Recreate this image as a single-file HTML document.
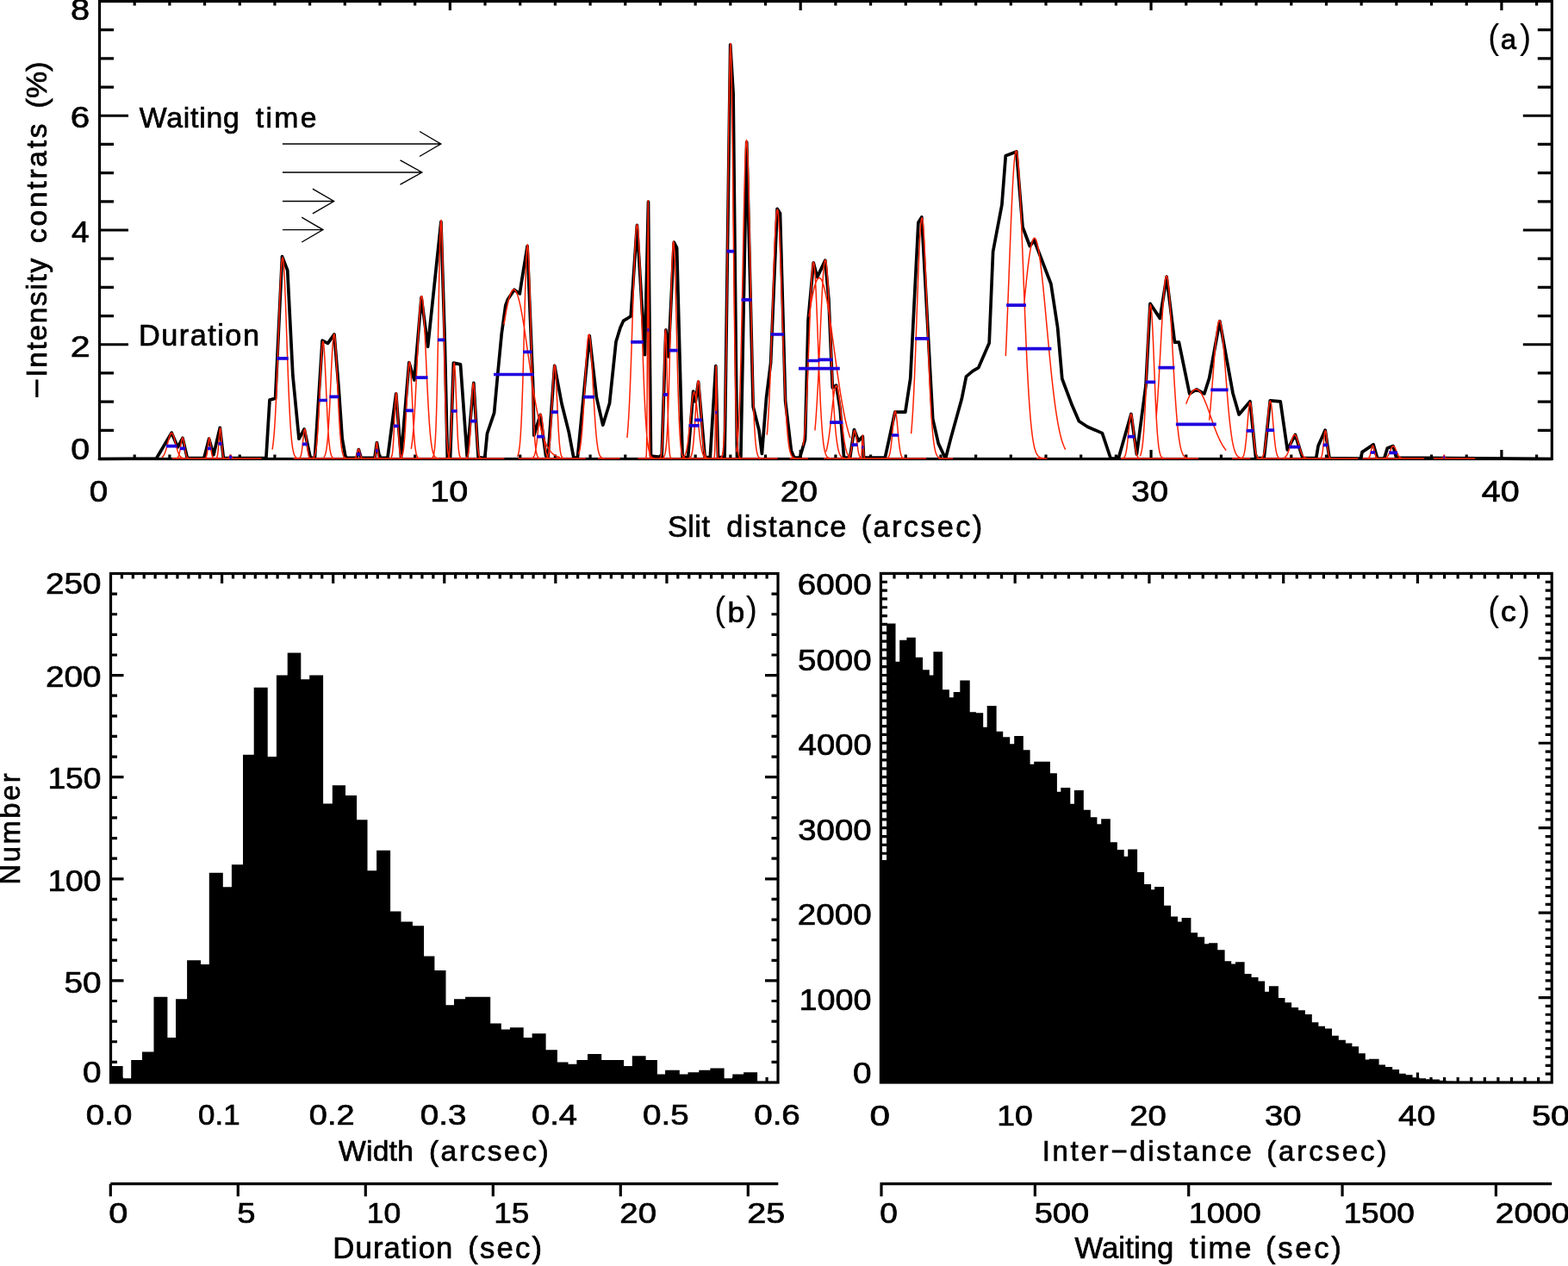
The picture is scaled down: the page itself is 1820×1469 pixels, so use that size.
<!DOCTYPE html><html><head><meta charset="utf-8"><style>html,body{margin:0;padding:0;background:#fff;}svg{display:block}</style></head><body>
<svg width="1820" height="1469" viewBox="0 0 1820 1469" font-family="'Liberation Sans', Arial, sans-serif" fill="#000">
<rect width="1820" height="1469" fill="#fff"/>
<path d="M128.50 1256.00L128.50 1237.10L142.60 1237.10L142.60 1251.28L152.20 1251.28L152.20 1230.02L165.00 1230.02L165.00 1220.57L178.50 1220.57L178.50 1156.80L194.40 1156.80L194.40 1204.04L204.00 1204.04L204.00 1159.16L217.10 1159.16L217.10 1114.28L233.00 1114.28L233.00 1119.00L242.80 1119.00L242.80 1012.71L258.80 1012.71L258.80 1029.25L268.90 1029.25L268.90 1003.27L282.00 1003.27L282.00 875.72L294.70 875.72L294.70 797.77L310.70 797.77L310.70 878.08L320.90 878.08L320.90 783.60L333.70 783.60L333.70 757.62L349.30 757.62L349.30 788.32L359.20 788.32L359.20 783.60L375.10 783.60L375.10 932.41L385.80 932.41L385.80 911.15L401.00 911.15L401.00 922.96L414.10 922.96L414.10 951.30L426.50 951.30L426.50 1010.35L437.10 1010.35L437.10 986.73L453.10 986.73L453.10 1057.59L465.50 1057.59L465.50 1069.40L478.90 1069.40L478.90 1074.13L492.00 1074.13L492.00 1109.56L504.40 1109.56L504.40 1126.09L517.50 1126.09L517.50 1166.24L527.00 1166.24L527.00 1159.16L540.10 1159.16L540.10 1156.80L554.60 1156.80L554.60 1156.80L569.20 1156.80L569.20 1187.50L581.80 1187.50L581.80 1194.59L591.90 1194.59L591.90 1192.23L607.70 1192.23L607.70 1204.04L617.60 1204.04L617.60 1199.31L633.60 1199.31L633.60 1218.21L646.90 1218.21L646.90 1232.38L659.50 1232.38L659.50 1234.74L669.40 1234.74L669.40 1230.02L682.00 1230.02L682.00 1222.93L698.20 1222.93L698.20 1230.02L711.10 1230.02L711.10 1230.02L724.10 1230.02L724.10 1237.10L733.80 1237.10L733.80 1225.29L749.60 1225.29L749.60 1230.02L762.90 1230.02L762.90 1246.55L772.10 1246.55L772.10 1241.83L788.80 1241.83L788.80 1246.55L798.50 1246.55L798.50 1244.19L811.30 1244.19L811.30 1241.83L824.40 1241.83L824.40 1239.47L840.60 1239.47L840.60 1251.28L850.30 1251.28L850.30 1246.55L863.10 1246.55L863.10 1244.19L879.10 1244.19L879.10 1256.00Z" fill="#000"/>
<path d="M1022.40 1256.00L1022.40 998.10L1029.00 998.10L1029.00 723.48L1039.50 723.48L1039.50 767.77L1044.20 767.77L1044.20 742.77L1052.40 742.77L1052.40 739.72L1062.80 739.72L1062.80 762.75L1071.00 762.75L1071.00 777.22L1078.80 777.22L1078.80 783.42L1083.40 783.42L1083.40 756.25L1094.00 756.25L1094.00 800.16L1101.90 800.16L1101.90 809.31L1106.70 809.31L1106.70 802.91L1114.30 802.91L1114.30 789.62L1125.70 789.62L1125.70 826.14L1132.90 826.14L1132.90 827.32L1141.20 827.32L1141.20 843.86L1145.70 843.86L1145.70 819.05L1156.60 819.05L1156.60 848.78L1164.20 848.78L1164.20 855.18L1172.20 855.18L1172.20 863.35L1177.20 863.35L1177.20 853.90L1187.80 853.90L1187.80 870.24L1195.60 870.24L1195.60 886.68L1200.20 886.68L1200.20 883.73L1209.50 883.73L1209.50 883.73L1218.90 883.73L1218.90 897.31L1226.90 897.31L1226.90 918.67L1231.30 918.67L1231.30 914.04L1242.30 914.04L1242.30 932.74L1246.90 932.74L1246.90 916.90L1257.80 916.90L1257.80 939.83L1265.80 939.83L1265.80 948.20L1273.40 948.20L1273.40 956.17L1278.20 956.17L1278.20 950.36L1288.80 950.36L1288.80 977.34L1296.80 977.34L1296.80 985.90L1304.70 985.90L1304.70 993.87L1309.20 993.87L1309.20 985.41L1320.10 985.41L1320.10 1011.98L1328.10 1011.98L1328.10 1026.06L1336.10 1026.06L1336.10 1032.26L1340.10 1032.26L1340.10 1029.11L1351.10 1029.11L1351.10 1050.86L1359.10 1050.86L1359.10 1063.56L1367.00 1063.56L1367.00 1069.47L1371.60 1069.47L1371.60 1064.94L1382.40 1064.94L1382.40 1082.27L1390.10 1082.27L1390.10 1087.29L1398.10 1087.29L1398.10 1095.16L1403.00 1095.16L1403.00 1094.27L1413.30 1094.27L1413.30 1102.25L1421.60 1102.25L1421.60 1115.34L1429.20 1115.34L1429.20 1118.59L1434.00 1118.59L1434.00 1116.32L1444.60 1116.32L1444.60 1130.10L1452.60 1130.10L1452.60 1133.94L1460.50 1133.94L1460.50 1138.57L1468.10 1138.57L1468.10 1150.77L1472.90 1150.77L1472.90 1144.18L1483.90 1144.18L1483.90 1157.96L1491.50 1157.96L1491.50 1163.18L1499.10 1163.18L1499.10 1168.98L1507.10 1168.98L1507.10 1172.23L1514.90 1172.23L1514.90 1176.96L1522.80 1176.96L1522.80 1186.21L1530.40 1186.21L1530.40 1190.64L1538.00 1190.64L1538.00 1193.49L1546.00 1193.49L1546.00 1201.76L1553.80 1201.76L1553.80 1206.68L1561.90 1206.68L1561.90 1210.62L1569.40 1210.62L1569.40 1214.17L1577.10 1214.17L1577.10 1222.34L1584.80 1222.34L1584.80 1229.52L1589.10 1229.52L1589.10 1228.64L1600.60 1228.64L1600.60 1235.53L1608.00 1235.53L1608.00 1238.09L1616.20 1238.09L1616.20 1241.04L1624.10 1241.04L1624.10 1245.86L1631.70 1245.86L1631.70 1247.34L1639.60 1247.34L1639.60 1250.19L1647.50 1250.19L1647.50 1251.28L1655.10 1251.28L1655.10 1252.16L1663.00 1252.16L1663.00 1252.55L1670.90 1252.55L1670.90 1253.83L1678.70 1253.83L1678.70 1254.82L1686.50 1254.82L1686.50 1255.21L1694.30 1255.21L1694.30 1255.51L1702.00 1255.51L1702.00 1255.70L1709.80 1255.70L1709.80 1255.80L1717.60 1255.80L1717.60 1256.00Z" fill="#000"/>
<rect x="115.50" y="1.50" width="1685.80" height="531.00" fill="none" stroke="#000" stroke-width="3.2"/>
<rect x="128.50" y="665.50" width="774.50" height="590.50" fill="none" stroke="#000" stroke-width="3.2"/>
<rect x="1022.40" y="665.40" width="778.80" height="590.60" fill="none" stroke="#000" stroke-width="3.2"/>
<path d="M522.35 532.50v-10.5M522.35 1.50v10.5M929.20 532.50v-10.5M929.20 1.50v10.5M1336.05 532.50v-10.5M1336.05 1.50v10.5M1742.90 532.50v-10.5M1742.90 1.50v10.5M156.19 532.50v-5M156.19 1.50v5M196.87 532.50v-5M196.87 1.50v5M237.56 532.50v-5M237.56 1.50v5M278.24 532.50v-5M278.24 1.50v5M318.93 532.50v-5M318.93 1.50v5M359.61 532.50v-5M359.61 1.50v5M400.30 532.50v-5M400.30 1.50v5M440.98 532.50v-5M440.98 1.50v5M481.67 532.50v-5M481.67 1.50v5M563.04 532.50v-5M563.04 1.50v5M603.72 532.50v-5M603.72 1.50v5M644.40 532.50v-5M644.40 1.50v5M685.09 532.50v-5M685.09 1.50v5M725.78 532.50v-5M725.78 1.50v5M766.46 532.50v-5M766.46 1.50v5M807.14 532.50v-5M807.14 1.50v5M847.83 532.50v-5M847.83 1.50v5M888.52 532.50v-5M888.52 1.50v5M969.88 532.50v-5M969.88 1.50v5M1010.57 532.50v-5M1010.57 1.50v5M1051.26 532.50v-5M1051.26 1.50v5M1091.94 532.50v-5M1091.94 1.50v5M1132.62 532.50v-5M1132.62 1.50v5M1173.31 532.50v-5M1173.31 1.50v5M1214.00 532.50v-5M1214.00 1.50v5M1254.68 532.50v-5M1254.68 1.50v5M1295.37 532.50v-5M1295.37 1.50v5M1376.74 532.50v-5M1376.74 1.50v5M1417.42 532.50v-5M1417.42 1.50v5M1458.11 532.50v-5M1458.11 1.50v5M1498.79 532.50v-5M1498.79 1.50v5M1539.48 532.50v-5M1539.48 1.50v5M1580.16 532.50v-5M1580.16 1.50v5M1620.85 532.50v-5M1620.85 1.50v5M1661.53 532.50v-5M1661.53 1.50v5M1702.22 532.50v-5M1702.22 1.50v5M1783.59 532.50v-5M1783.59 1.50v5M115.50 399.75h33.5M1801.30 399.75h-33.5M115.50 267.00h33.5M1801.30 267.00h-33.5M115.50 134.25h33.5M1801.30 134.25h-33.5M115.50 499.31h16.5M1801.30 499.31h-16.5M115.50 466.12h16.5M1801.30 466.12h-16.5M115.50 432.94h16.5M1801.30 432.94h-16.5M115.50 366.56h16.5M1801.30 366.56h-16.5M115.50 333.38h16.5M1801.30 333.38h-16.5M115.50 300.19h16.5M1801.30 300.19h-16.5M115.50 233.81h16.5M1801.30 233.81h-16.5M115.50 200.62h16.5M1801.30 200.62h-16.5M115.50 167.44h16.5M1801.30 167.44h-16.5M115.50 101.06h16.5M1801.30 101.06h-16.5M115.50 67.88h16.5M1801.30 67.88h-16.5M115.50 34.69h16.5M1801.30 34.69h-16.5" stroke="#000" stroke-width="3.2" fill="none"/>
<path d="M257.58 1256.00v-11.5M257.58 665.50v11.5M386.67 1256.00v-11.5M386.67 665.50v11.5M515.75 1256.00v-11.5M515.75 665.50v11.5M644.83 1256.00v-11.5M644.83 665.50v11.5M773.92 1256.00v-11.5M773.92 665.50v11.5M141.41 1256.00v-6M141.41 665.50v6M154.32 1256.00v-6M154.32 665.50v6M167.22 1256.00v-6M167.22 665.50v6M180.13 1256.00v-6M180.13 665.50v6M193.04 1256.00v-6M193.04 665.50v6M205.95 1256.00v-6M205.95 665.50v6M218.86 1256.00v-6M218.86 665.50v6M231.77 1256.00v-6M231.77 665.50v6M244.68 1256.00v-6M244.68 665.50v6M270.49 1256.00v-6M270.49 665.50v6M283.40 1256.00v-6M283.40 665.50v6M296.31 1256.00v-6M296.31 665.50v6M309.22 1256.00v-6M309.22 665.50v6M322.12 1256.00v-6M322.12 665.50v6M335.03 1256.00v-6M335.03 665.50v6M347.94 1256.00v-6M347.94 665.50v6M360.85 1256.00v-6M360.85 665.50v6M373.76 1256.00v-6M373.76 665.50v6M399.57 1256.00v-6M399.57 665.50v6M412.48 1256.00v-6M412.48 665.50v6M425.39 1256.00v-6M425.39 665.50v6M438.30 1256.00v-6M438.30 665.50v6M451.21 1256.00v-6M451.21 665.50v6M464.12 1256.00v-6M464.12 665.50v6M477.03 1256.00v-6M477.03 665.50v6M489.93 1256.00v-6M489.93 665.50v6M502.84 1256.00v-6M502.84 665.50v6M528.66 1256.00v-6M528.66 665.50v6M541.57 1256.00v-6M541.57 665.50v6M554.48 1256.00v-6M554.48 665.50v6M567.38 1256.00v-6M567.38 665.50v6M580.29 1256.00v-6M580.29 665.50v6M593.20 1256.00v-6M593.20 665.50v6M606.11 1256.00v-6M606.11 665.50v6M619.02 1256.00v-6M619.02 665.50v6M631.92 1256.00v-6M631.92 665.50v6M657.74 1256.00v-6M657.74 665.50v6M670.65 1256.00v-6M670.65 665.50v6M683.56 1256.00v-6M683.56 665.50v6M696.47 1256.00v-6M696.47 665.50v6M709.38 1256.00v-6M709.38 665.50v6M722.28 1256.00v-6M722.28 665.50v6M735.19 1256.00v-6M735.19 665.50v6M748.10 1256.00v-6M748.10 665.50v6M761.01 1256.00v-6M761.01 665.50v6M786.83 1256.00v-6M786.83 665.50v6M799.73 1256.00v-6M799.73 665.50v6M812.64 1256.00v-6M812.64 665.50v6M825.55 1256.00v-6M825.55 665.50v6M838.46 1256.00v-6M838.46 665.50v6M851.37 1256.00v-6M851.37 665.50v6M864.27 1256.00v-6M864.27 665.50v6M877.18 1256.00v-6M877.18 665.50v6M890.09 1256.00v-6M890.09 665.50v6M128.50 1137.90h15M903.00 1137.90h-15M128.50 1019.80h15M903.00 1019.80h-15M128.50 901.70h15M903.00 901.70h-15M128.50 783.60h15M903.00 783.60h-15M128.50 1232.38h7.5M903.00 1232.38h-7.5M128.50 1208.76h7.5M903.00 1208.76h-7.5M128.50 1185.14h7.5M903.00 1185.14h-7.5M128.50 1161.52h7.5M903.00 1161.52h-7.5M128.50 1114.28h7.5M903.00 1114.28h-7.5M128.50 1090.66h7.5M903.00 1090.66h-7.5M128.50 1067.04h7.5M903.00 1067.04h-7.5M128.50 1043.42h7.5M903.00 1043.42h-7.5M128.50 996.18h7.5M903.00 996.18h-7.5M128.50 972.56h7.5M903.00 972.56h-7.5M128.50 948.94h7.5M903.00 948.94h-7.5M128.50 925.32h7.5M903.00 925.32h-7.5M128.50 878.08h7.5M903.00 878.08h-7.5M128.50 854.46h7.5M903.00 854.46h-7.5M128.50 830.84h7.5M903.00 830.84h-7.5M128.50 807.22h7.5M903.00 807.22h-7.5M128.50 759.98h7.5M903.00 759.98h-7.5M128.50 736.36h7.5M903.00 736.36h-7.5M128.50 712.74h7.5M903.00 712.74h-7.5M128.50 689.12h7.5M903.00 689.12h-7.5" stroke="#000" stroke-width="3.2" fill="none"/>
<path d="M1178.16 1256.00v-11.5M1178.16 665.40v11.5M1333.92 1256.00v-11.5M1333.92 665.40v11.5M1489.68 1256.00v-11.5M1489.68 665.40v11.5M1645.44 1256.00v-11.5M1645.44 665.40v11.5M1037.98 1256.00v-6M1037.98 665.40v6M1053.55 1256.00v-6M1053.55 665.40v6M1069.13 1256.00v-6M1069.13 665.40v6M1084.70 1256.00v-6M1084.70 665.40v6M1100.28 1256.00v-6M1100.28 665.40v6M1115.86 1256.00v-6M1115.86 665.40v6M1131.43 1256.00v-6M1131.43 665.40v6M1147.01 1256.00v-6M1147.01 665.40v6M1162.58 1256.00v-6M1162.58 665.40v6M1193.74 1256.00v-6M1193.74 665.40v6M1209.31 1256.00v-6M1209.31 665.40v6M1224.89 1256.00v-6M1224.89 665.40v6M1240.46 1256.00v-6M1240.46 665.40v6M1256.04 1256.00v-6M1256.04 665.40v6M1271.62 1256.00v-6M1271.62 665.40v6M1287.19 1256.00v-6M1287.19 665.40v6M1302.77 1256.00v-6M1302.77 665.40v6M1318.34 1256.00v-6M1318.34 665.40v6M1349.50 1256.00v-6M1349.50 665.40v6M1365.07 1256.00v-6M1365.07 665.40v6M1380.65 1256.00v-6M1380.65 665.40v6M1396.22 1256.00v-6M1396.22 665.40v6M1411.80 1256.00v-6M1411.80 665.40v6M1427.38 1256.00v-6M1427.38 665.40v6M1442.95 1256.00v-6M1442.95 665.40v6M1458.53 1256.00v-6M1458.53 665.40v6M1474.10 1256.00v-6M1474.10 665.40v6M1505.26 1256.00v-6M1505.26 665.40v6M1520.83 1256.00v-6M1520.83 665.40v6M1536.41 1256.00v-6M1536.41 665.40v6M1551.98 1256.00v-6M1551.98 665.40v6M1567.56 1256.00v-6M1567.56 665.40v6M1583.14 1256.00v-6M1583.14 665.40v6M1598.71 1256.00v-6M1598.71 665.40v6M1614.29 1256.00v-6M1614.29 665.40v6M1629.86 1256.00v-6M1629.86 665.40v6M1661.02 1256.00v-6M1661.02 665.40v6M1676.59 1256.00v-6M1676.59 665.40v6M1692.17 1256.00v-6M1692.17 665.40v6M1707.74 1256.00v-6M1707.74 665.40v6M1723.32 1256.00v-6M1723.32 665.40v6M1738.90 1256.00v-6M1738.90 665.40v6M1754.47 1256.00v-6M1754.47 665.40v6M1770.05 1256.00v-6M1770.05 665.40v6M1785.62 1256.00v-6M1785.62 665.40v6M1022.40 1157.57h15.5M1801.20 1157.57h-15.5M1022.40 1059.13h15.5M1801.20 1059.13h-15.5M1022.40 960.70h15.5M1801.20 960.70h-15.5M1022.40 862.27h15.5M1801.20 862.27h-15.5M1022.40 763.83h15.5M1801.20 763.83h-15.5M1022.40 1246.16h7.5M1801.20 1246.16h-7.5M1022.40 1236.31h7.5M1801.20 1236.31h-7.5M1022.40 1226.47h7.5M1801.20 1226.47h-7.5M1022.40 1216.63h7.5M1801.20 1216.63h-7.5M1022.40 1206.78h7.5M1801.20 1206.78h-7.5M1022.40 1196.94h7.5M1801.20 1196.94h-7.5M1022.40 1187.10h7.5M1801.20 1187.10h-7.5M1022.40 1177.25h7.5M1801.20 1177.25h-7.5M1022.40 1167.41h7.5M1801.20 1167.41h-7.5M1022.40 1147.72h7.5M1801.20 1147.72h-7.5M1022.40 1137.88h7.5M1801.20 1137.88h-7.5M1022.40 1128.04h7.5M1801.20 1128.04h-7.5M1022.40 1118.19h7.5M1801.20 1118.19h-7.5M1022.40 1108.35h7.5M1801.20 1108.35h-7.5M1022.40 1098.51h7.5M1801.20 1098.51h-7.5M1022.40 1088.66h7.5M1801.20 1088.66h-7.5M1022.40 1078.82h7.5M1801.20 1078.82h-7.5M1022.40 1068.98h7.5M1801.20 1068.98h-7.5M1022.40 1049.29h7.5M1801.20 1049.29h-7.5M1022.40 1039.45h7.5M1801.20 1039.45h-7.5M1022.40 1029.60h7.5M1801.20 1029.60h-7.5M1022.40 1019.76h7.5M1801.20 1019.76h-7.5M1022.40 1009.92h7.5M1801.20 1009.92h-7.5M1022.40 1000.07h7.5M1801.20 1000.07h-7.5M1022.40 990.23h7.5M1801.20 990.23h-7.5M1022.40 980.39h7.5M1801.20 980.39h-7.5M1022.40 970.54h7.5M1801.20 970.54h-7.5M1022.40 950.86h7.5M1801.20 950.86h-7.5M1022.40 941.01h7.5M1801.20 941.01h-7.5M1022.40 931.17h7.5M1801.20 931.17h-7.5M1022.40 921.33h7.5M1801.20 921.33h-7.5M1022.40 911.48h7.5M1801.20 911.48h-7.5M1022.40 901.64h7.5M1801.20 901.64h-7.5M1022.40 891.80h7.5M1801.20 891.80h-7.5M1022.40 881.95h7.5M1801.20 881.95h-7.5M1022.40 872.11h7.5M1801.20 872.11h-7.5M1022.40 852.42h7.5M1801.20 852.42h-7.5M1022.40 842.58h7.5M1801.20 842.58h-7.5M1022.40 832.74h7.5M1801.20 832.74h-7.5M1022.40 822.89h7.5M1801.20 822.89h-7.5M1022.40 813.05h7.5M1801.20 813.05h-7.5M1022.40 803.21h7.5M1801.20 803.21h-7.5M1022.40 793.36h7.5M1801.20 793.36h-7.5M1022.40 783.52h7.5M1801.20 783.52h-7.5M1022.40 773.68h7.5M1801.20 773.68h-7.5M1022.40 753.99h7.5M1801.20 753.99h-7.5M1022.40 744.15h7.5M1801.20 744.15h-7.5M1022.40 734.30h7.5M1801.20 734.30h-7.5M1022.40 724.46h7.5M1801.20 724.46h-7.5M1022.40 714.62h7.5M1801.20 714.62h-7.5M1022.40 704.77h7.5M1801.20 704.77h-7.5M1022.40 694.93h7.5M1801.20 694.93h-7.5M1022.40 685.09h7.5M1801.20 685.09h-7.5M1022.40 675.24h7.5M1801.20 675.24h-7.5" stroke="#000" stroke-width="3.2" fill="none"/>
<path d="M115.5 532.5L181.5 532.0L199.2 502.1L206.3 518.9L212.0 508.3L217.4 531.5L236.9 531.5L242.6 509.2L247.9 527.8L255.3 496.3L259.4 531.5L308.9 531.5L313.0 464.1L319.6 462.3L327.5 297.7L333.7 313.6L339.9 435.8L347.0 509.2L353.2 498.0L360.3 531.3L365.4 531.4L374.1 395.2L380.5 398.4L388.0 387.9L393.2 451.0L397.2 508.9L400.7 528.5L402.0 531.4L414.0 531.4L416.3 521.6L419.2 531.4L434.9 531.4L437.4 513.5L440.6 531.4L449.9 531.4L459.7 456.8L465.5 530.9L474.8 420.6L480.9 441.0L489.1 345.1L496.6 402.2L511.9 257.3L516.4 400.0L519.3 531.6L522.6 531.6L526.4 421.0L534.5 422.9L542.2 529.7L549.8 444.3L555.1 530.7L562.7 531.6L565.5 503.0L573.6 479.2L577.6 435.4L582.2 387.6L586.8 354.5L589.5 347.2L596.9 336.2L603.3 340.8L605.1 328.8L612.1 285.6L618.9 453.8L619.8 505.2L627.2 481.4L633.6 529.1L636.0 531.4L643.7 424.4L652.0 468.5L660.3 501.6L665.8 531.0L670.4 531.0L684.2 389.5L692.4 461.1L699.8 493.3L707.5 468.0L715.0 396.5L720.0 380.3L723.5 372.4L732.2 367.0L739.4 261.4L748.5 411.6L752.5 234.2L755.5 529.2L768.1 530.5L772.9 382.9L775.8 413.8L782.3 281.0L785.6 287.5L792.1 530.5L798.6 530.5L804.7 454.0L807.3 466.0L810.6 443.2L818.2 530.5L824.3 530.5L830.8 424.7L833.5 530.5L841.1 530.5L847.7 51.9L851.1 108.0L855.5 530.5L859.9 530.5L866.7 165.0L874.2 472.0L881.0 499.2L884.4 526.4L889.5 461.8L894.6 421.0L902.1 242.4L905.5 247.5L911.6 465.2L918.4 523.0L921.8 531.0L928.3 531.2L930.9 522.4L934.5 510.0L938.0 372.0L944.2 304.8L948.6 321.6L957.8 302.1L961.9 347.2L966.3 449.8L970.7 447.2L975.1 474.6L979.6 531.2L986.6 531.2L991.4 498.5L996.4 511.7L1001.3 506.4L1002.6 531.2L1027.3 531.2L1038.8 478.2L1050.8 478.2L1056.7 439.4L1065.9 258.3L1069.8 251.9L1082.7 486.1L1089.2 514.6L1097.5 532.3L1103.4 509.4L1116.3 462.8L1121.5 436.9L1129.3 430.4L1135.8 426.6L1148.2 398.1L1152.6 292.0L1162.9 237.6L1167.3 180.7L1179.8 176.0L1187.0 263.5L1195.3 285.5L1200.5 279.0L1219.9 329.5L1227.6 380.0L1232.8 439.5L1244.5 470.6L1252.4 488.7L1262.3 495.2L1279.4 502.6L1289.2 532.0L1298.2 532.0L1312.9 480.5L1319.4 527.1L1330.0 447.0L1335.0 352.3L1346.4 369.4L1354.1 321.2L1363.5 397.2L1368.4 397.2L1380.7 456.8L1388.9 451.9L1397.9 456.8L1403.6 438.9L1415.8 372.7L1431.0 456.2L1438.1 481.0L1451.0 465.8L1457.6 531.6L1467.2 531.6L1474.3 464.8L1486.2 465.8L1494.3 522.0L1503.4 504.4L1512.0 531.6L1527.7 531.6L1530.1 517.3L1538.2 499.1L1543.0 531.6L1579.6 532.0L1581.0 524.6L1594.1 515.7L1598.8 532.0L1606.7 532.0L1610.4 519.9L1617.0 517.6L1620.7 531.1L1801.0 532.5" fill="none" stroke="#000" stroke-width="3.7" stroke-linejoin="round" stroke-linecap="round"/>
<path d="M187.7 530.9L188.2 530.6L188.7 530.1L189.2 529.6L189.7 528.9L190.2 528.1L190.7 527.1L191.2 526.0L191.7 524.7L192.2 523.3L192.7 521.7L193.2 519.9L193.7 518.1L194.2 516.1L194.7 514.1L195.2 512.1L195.7 510.2L196.2 508.4L196.7 506.7L197.2 505.2L197.7 504.0L198.2 503.1L198.7 502.6L199.2 502.4L199.7 502.6L200.2 503.1L200.7 504.0L201.2 505.2L201.7 506.7L202.2 508.4L202.7 510.2L203.2 512.1L203.7 514.1L204.2 516.1L204.7 518.1L205.2 519.9L205.7 521.7L206.2 523.3L206.7 524.7L207.2 526.0L207.7 527.1L208.2 528.1L208.7 528.9L209.2 529.6L209.7 530.1L210.2 530.6L210.7 530.9L211.2 531.2L211.7 531.4L212.2 531.6L212.7 531.7L213.2 531.8L213.7 531.8L214.2 531.9L214.7 531.9L215.2 532.0L215.7 532.0L216.2 532.0L216.7 532.0L217.2 532.0L217.7 532.0L218.2 532.0L218.7 532.0L219.2 532.0L219.7 532.0L220.2 532.0L220.7 532.0L221.2 532.0L221.7 532.0L222.2 532.0L222.7 532.0L223.2 532.0L223.7 532.0L224.2 532.0L224.7 532.0L225.2 532.0L225.7 532.0L226.2 532.0L226.7 532.0L227.2 532.0L227.7 532.0L228.2 532.0L228.7 532.0L229.2 532.0L229.7 532.0L230.2 532.0L230.7 532.0L231.2 532.0L231.7 532.0L232.2 532.0L232.7 532.0L233.2 532.0L233.7 532.0L234.2 532.0L234.7 532.0L235.2 532.0M200.0 532.0L200.5 532.0L201.0 532.0L201.5 532.0L202.0 532.0L202.5 532.0L203.0 532.0L203.5 532.0L204.0 532.0L204.5 531.9L205.0 531.8L205.5 531.6L206.0 531.3L206.5 530.8L207.0 530.0L207.5 528.8L208.0 527.1L208.5 524.9L209.0 522.1L209.5 519.0L210.0 515.8L210.5 512.7L211.0 510.1L211.5 508.4L212.0 507.8L212.5 508.4L213.0 510.1L213.5 512.7L214.0 515.8L214.5 519.0L215.0 522.1L215.5 524.9L216.0 527.1L216.5 528.8L217.0 530.0L217.5 530.8L218.0 531.3L218.5 531.6L219.0 531.8L219.5 531.9L220.0 532.0L220.5 532.0L221.0 532.0L221.5 532.0L222.0 532.0L222.5 532.0L223.0 532.0L223.5 532.0L224.0 532.0L224.5 532.0L225.0 532.0L225.5 532.0L226.0 532.0L226.5 532.0L227.0 532.0L227.5 532.0L228.0 532.0L228.5 532.0L229.0 532.0L229.5 532.0L230.0 532.0L230.5 532.0L231.0 532.0L231.5 532.0L232.0 532.0L232.5 532.0L233.0 532.0L233.5 532.0L234.0 532.0L234.5 532.0L235.0 532.0L235.5 532.0L236.0 532.0L236.5 532.0L237.0 532.0L237.5 532.0L238.0 532.0L238.5 532.0L239.0 532.0L239.5 532.0L240.0 532.0L240.5 532.0L241.0 532.0L241.5 532.0L242.0 532.0L242.5 532.0L243.0 532.0L243.5 532.0L244.0 532.0L244.5 532.0L245.0 532.0L245.5 532.0L246.0 532.0L246.5 532.0L247.0 532.0L247.5 532.0L248.0 532.0M231.0 532.0L231.5 532.0L232.0 532.0L232.5 532.0L233.0 532.0L233.5 532.0L234.0 532.0L234.5 532.0L235.0 532.0L235.5 532.0L236.0 532.0L236.5 532.0L237.0 532.0L237.5 531.9L238.0 531.8L238.5 531.6L239.0 531.0L239.5 529.9L240.0 527.9L240.5 525.0L241.0 521.0L241.5 516.5L242.0 512.2L242.5 509.0L243.0 507.8L243.5 509.0L244.0 512.2L244.5 516.5L245.0 521.0L245.5 525.0L246.0 527.9L246.5 529.9L247.0 531.0L247.5 531.6L248.0 531.8L248.5 531.9L249.0 532.0L249.5 532.0L250.0 532.0L250.5 532.0L251.0 532.0L251.5 532.0L252.0 532.0L252.5 532.0L253.0 532.0L253.5 532.0L254.0 532.0L254.5 532.0L255.0 532.0L255.5 532.0L256.0 532.0L256.5 532.0L257.0 532.0L257.5 532.0L258.0 532.0L258.5 532.0L259.0 532.0L259.5 532.0L260.0 532.0L260.5 532.0L261.0 532.0L261.5 532.0L262.0 532.0L262.5 532.0L263.0 532.0L263.5 532.0L264.0 532.0L264.5 532.0L265.0 532.0L265.5 532.0L266.0 532.0L266.5 532.0L267.0 532.0L267.5 532.0L268.0 532.0L268.5 532.0L269.0 532.0L269.5 532.0L270.0 532.0L270.5 532.0L271.0 532.0L271.5 532.0L272.0 532.0L272.5 532.0L273.0 532.0L273.5 532.0L274.0 532.0L274.5 532.0L275.0 532.0L275.5 532.0L276.0 532.0L276.5 532.0L277.0 532.0L277.5 532.0L278.0 532.0L278.5 532.0L279.0 532.0M243.6 532.0L244.1 532.0L244.6 532.0L245.1 532.0L245.6 532.0L246.1 532.0L246.6 532.0L247.1 532.0L247.6 532.0L248.1 532.0L248.6 532.0L249.1 532.0L249.6 532.0L250.1 532.0L250.6 531.9L251.1 531.7L251.6 531.1L252.1 529.9L252.6 527.5L253.1 523.5L253.6 517.9L254.1 510.9L254.6 504.0L255.1 498.8L255.6 496.8L256.1 498.8L256.6 504.0L257.1 510.9L257.6 517.9L258.1 523.5L258.6 527.5L259.1 529.9L259.6 531.1L260.1 531.7L260.6 531.9L261.1 532.0L261.6 532.0L262.1 532.0L262.6 532.0L263.1 532.0L263.6 532.0L264.1 532.0L264.6 532.0L265.1 532.0L265.6 532.0L266.1 532.0L266.6 532.0L267.1 532.0L267.6 532.0L268.1 532.0L268.6 532.0L269.1 532.0L269.6 532.0L270.1 532.0L270.6 532.0L271.1 532.0L271.6 532.0L272.1 532.0L272.6 532.0L273.1 532.0L273.6 532.0L274.1 532.0L274.6 532.0L275.1 532.0L275.6 532.0L276.1 532.0L276.6 532.0L277.1 532.0L277.6 532.0L278.1 532.0L278.6 532.0L279.1 532.0L279.6 532.0L280.1 532.0L280.6 532.0L281.1 532.0L281.6 532.0L282.1 532.0L282.6 532.0L283.1 532.0L283.6 532.0L284.1 532.0L284.6 532.0L285.1 532.0L285.6 532.0L286.1 532.0L286.6 532.0L287.1 532.0L287.6 532.0L288.1 532.0L288.6 532.0L289.1 532.0L289.6 532.0L290.1 532.0L290.6 532.0L291.1 532.0L291.6 532.0M255.6 532.0L256.1 532.0L256.6 532.0L257.1 532.0L257.6 532.0L258.1 532.0L258.6 532.0L259.1 532.0L259.6 532.0L260.1 532.0L260.6 532.0L261.1 532.0L261.6 532.0L262.1 532.0L262.6 532.0L263.1 532.0L263.6 532.0L264.1 532.0L264.6 531.9L265.1 531.7L265.6 531.2L266.1 530.4L266.6 529.3L267.1 528.2L267.6 527.8L268.1 528.2L268.6 529.3L269.1 530.4L269.6 531.2L270.1 531.7L270.6 531.9L271.1 532.0L271.6 532.0L272.1 532.0L272.6 532.0L273.1 532.0L273.6 532.0L274.1 532.0L274.6 532.0L275.1 532.0L275.6 532.0L276.1 532.0L276.6 532.0L277.1 532.0L277.6 532.0L278.1 532.0L278.6 532.0L279.1 532.0L279.6 532.0L280.1 532.0L280.6 532.0L281.1 532.0L281.6 532.0L282.1 532.0L282.6 532.0L283.1 532.0L283.6 532.0L284.1 532.0L284.6 532.0L285.1 532.0L285.6 532.0L286.1 532.0L286.6 532.0L287.1 532.0L287.6 532.0L288.1 532.0L288.6 532.0L289.1 532.0L289.6 532.0L290.1 532.0L290.6 532.0L291.1 532.0L291.6 532.0L292.1 532.0L292.6 532.0L293.1 532.0L293.6 532.0L294.1 532.0L294.6 532.0L295.1 532.0L295.6 532.0L296.1 532.0L296.6 532.0L297.1 532.0L297.6 532.0L298.1 532.0L298.6 532.0L299.1 532.0L299.6 532.0L300.1 532.0L300.6 532.0L301.1 532.0L301.6 532.0L302.1 532.0L302.6 532.0L303.1 532.0L303.6 532.0M316.0 521.7L316.5 518.8L317.0 515.1L317.5 510.7L318.0 505.3L318.5 499.1L319.0 491.7L319.5 483.3L320.0 473.8L320.5 463.1L321.0 451.4L321.5 438.7L322.0 425.1L322.5 410.9L323.0 396.3L323.5 381.6L324.0 367.0L324.5 353.1L325.0 340.0L325.5 328.2L326.0 318.0L326.5 309.7L327.0 303.6L327.5 299.9L328.0 298.6L328.5 299.9L329.0 303.6L329.5 309.7L330.0 318.0L330.5 328.2L331.0 340.0L331.5 353.1L332.0 367.0L332.5 381.6L333.0 396.3L333.5 410.9L334.0 425.1L334.5 438.7L335.0 451.4L335.5 463.1L336.0 473.8L336.5 483.3L337.0 491.7L337.5 499.1L338.0 505.3L338.5 510.7L339.0 515.1L339.5 518.8L340.0 521.7L340.5 524.1L341.0 526.0L341.5 527.5L342.0 528.7L342.5 529.6L343.0 530.2L343.5 530.7L344.0 531.1L344.5 531.4L345.0 531.6L345.5 531.7L346.0 531.8L346.5 531.9L347.0 531.9L347.5 531.9L348.0 532.0L348.5 532.0L349.0 532.0L349.5 532.0L350.0 532.0L350.5 532.0L351.0 532.0L351.5 532.0L352.0 532.0L352.5 532.0L353.0 532.0L353.5 532.0L354.0 532.0L354.5 532.0L355.0 532.0L355.5 532.0L356.0 532.0L356.5 532.0L357.0 532.0L357.5 532.0L358.0 532.0L358.5 532.0L359.0 532.0L359.5 532.0L360.0 532.0L360.5 532.0L361.0 532.0L361.5 532.0L362.0 532.0L362.5 532.0L363.0 532.0L363.5 532.0L364.0 532.0M341.8 532.0L342.3 532.0L342.8 532.0L343.3 532.0L343.8 532.0L344.3 532.0L344.8 532.0L345.3 532.0L345.8 532.0L346.3 531.9L346.8 531.9L347.3 531.7L347.8 531.4L348.3 530.9L348.8 530.0L349.3 528.6L349.8 526.5L350.3 523.5L350.8 519.7L351.3 515.2L351.8 510.3L352.3 505.5L352.8 501.5L353.3 498.8L353.8 497.8L354.3 498.8L354.8 501.5L355.3 505.5L355.8 510.3L356.3 515.2L356.8 519.7L357.3 523.5L357.8 526.5L358.3 528.6L358.8 530.0L359.3 530.9L359.8 531.4L360.3 531.7L360.8 531.9L361.3 531.9L361.8 532.0L362.3 532.0L362.8 532.0L363.3 532.0L363.8 532.0L364.3 532.0L364.8 532.0L365.3 532.0L365.8 532.0L366.3 532.0L366.8 532.0L367.3 532.0L367.8 532.0L368.3 532.0L368.8 532.0L369.3 532.0L369.8 532.0L370.3 532.0L370.8 532.0L371.3 532.0L371.8 532.0L372.3 532.0L372.8 532.0L373.3 532.0L373.8 532.0L374.3 532.0L374.8 532.0L375.3 532.0L375.8 532.0L376.3 532.0L376.8 532.0L377.3 532.0L377.8 532.0L378.3 532.0L378.8 532.0L379.3 532.0L379.8 532.0L380.3 532.0L380.8 532.0L381.3 532.0L381.8 532.0L382.3 532.0L382.8 532.0L383.3 532.0L383.8 532.0L384.3 532.0L384.8 532.0L385.3 532.0L385.8 532.0L386.3 532.0L386.8 532.0L387.3 532.0L387.8 532.0L388.3 532.0L388.8 532.0L389.3 532.0L389.8 532.0M362.9 531.5L363.4 531.2L363.9 530.8L364.4 530.2L364.9 529.3L365.4 528.0L365.9 526.3L366.4 524.0L366.9 520.9L367.4 517.0L367.9 512.0L368.4 506.0L368.9 498.8L369.4 490.4L369.9 480.9L370.4 470.5L370.9 459.3L371.4 447.8L371.9 436.4L372.4 425.5L372.9 415.7L373.4 407.5L373.9 401.2L374.4 397.3L374.9 396.0L375.4 397.3L375.9 401.2L376.4 407.5L376.9 415.7L377.4 425.5L377.9 436.4L378.4 447.8L378.9 459.3L379.4 470.5L379.9 480.9L380.4 490.4L380.9 498.8L381.4 506.0L381.9 512.0L382.4 517.0L382.9 520.9L383.4 524.0L383.9 526.3L384.4 528.0L384.9 529.3L385.4 530.2L385.9 530.8L386.4 531.2L386.9 531.5L387.4 531.7L387.9 531.8L388.4 531.9L388.9 531.9L389.4 532.0L389.9 532.0L390.4 532.0L390.9 532.0L391.4 532.0L391.9 532.0L392.4 532.0L392.9 532.0L393.4 532.0L393.9 532.0L394.4 532.0L394.9 532.0L395.4 532.0L395.9 532.0L396.4 532.0L396.9 532.0L397.4 532.0L397.9 532.0L398.4 532.0L398.9 532.0L399.4 532.0L399.9 532.0L400.4 532.0L400.9 532.0L401.4 532.0L401.9 532.0L402.4 532.0L402.9 532.0L403.4 532.0L403.9 532.0L404.4 532.0L404.9 532.0L405.4 532.0L405.9 532.0L406.4 532.0L406.9 532.0L407.4 532.0L407.9 532.0L408.4 532.0L408.9 532.0L409.4 532.0L409.9 532.0L410.4 532.0L410.9 532.0M375.8 530.7L376.3 530.1L376.8 529.3L377.3 528.2L377.8 526.6L378.3 524.6L378.8 521.9L379.3 518.6L379.8 514.4L380.3 509.3L380.8 503.2L381.3 496.0L381.8 487.8L382.3 478.6L382.8 468.6L383.3 457.8L383.8 446.7L384.3 435.5L384.8 424.6L385.3 414.4L385.8 405.4L386.3 397.9L386.8 392.3L387.3 388.8L387.8 387.6L388.3 388.8L388.8 392.3L389.3 397.9L389.8 405.4L390.3 414.4L390.8 424.6L391.3 435.5L391.8 446.7L392.3 457.8L392.8 468.6L393.3 478.6L393.8 487.8L394.3 496.0L394.8 503.2L395.3 509.3L395.8 514.4L396.3 518.6L396.8 521.9L397.3 524.6L397.8 526.6L398.3 528.2L398.8 529.3L399.3 530.1L399.8 530.7L400.3 531.2L400.8 531.4L401.3 531.6L401.8 531.8L402.3 531.9L402.8 531.9L403.3 531.9L403.8 532.0L404.3 532.0L404.8 532.0L405.3 532.0L405.8 532.0L406.3 532.0L406.8 532.0L407.3 532.0L407.8 532.0L408.3 532.0L408.8 532.0L409.3 532.0L409.8 532.0L410.3 532.0L410.8 532.0L411.3 532.0L411.8 532.0L412.3 532.0L412.8 532.0L413.3 532.0L413.8 532.0L414.3 532.0L414.8 532.0L415.3 532.0L415.8 532.0L416.3 532.0L416.8 532.0L417.3 532.0L417.8 532.0L418.3 532.0L418.8 532.0L419.3 532.0L419.8 532.0L420.3 532.0L420.8 532.0L421.3 532.0L421.8 532.0L422.3 532.0L422.8 532.0L423.3 532.0L423.8 532.0M404.2 532.0L404.7 532.0L405.2 532.0L405.7 532.0L406.2 532.0L406.7 532.0L407.2 532.0L407.7 532.0L408.2 532.0L408.7 532.0L409.2 532.0L409.7 532.0L410.2 532.0L410.7 532.0L411.2 531.9L411.7 531.8L412.2 531.5L412.7 531.0L413.2 530.2L413.7 528.8L414.2 527.0L414.7 525.0L415.2 523.0L415.7 521.5L416.2 521.0L416.7 521.5L417.2 523.0L417.7 525.0L418.2 527.0L418.7 528.8L419.2 530.2L419.7 531.0L420.2 531.5L420.7 531.8L421.2 531.9L421.7 532.0L422.2 532.0L422.7 532.0L423.2 532.0L423.7 532.0L424.2 532.0L424.7 532.0L425.2 532.0L425.7 532.0L426.2 532.0L426.7 532.0L427.2 532.0L427.7 532.0L428.2 532.0L428.7 532.0L429.2 532.0L429.7 532.0L430.2 532.0L430.7 532.0L431.2 532.0L431.7 532.0L432.2 532.0L432.7 532.0L433.2 532.0L433.7 532.0L434.2 532.0L434.7 532.0L435.2 532.0L435.7 532.0L436.2 532.0L436.7 532.0L437.2 532.0L437.7 532.0L438.2 532.0L438.7 532.0L439.2 532.0L439.7 532.0L440.2 532.0L440.7 532.0L441.2 532.0L441.7 532.0L442.2 532.0L442.7 532.0L443.2 532.0L443.7 532.0L444.2 532.0L444.7 532.0L445.2 532.0L445.7 532.0L446.2 532.0L446.7 532.0L447.2 532.0L447.7 532.0L448.2 532.0L448.7 532.0L449.2 532.0L449.7 532.0L450.2 532.0L450.7 532.0L451.2 532.0L451.7 532.0L452.2 532.0M425.3 532.0L425.8 532.0L426.3 532.0L426.8 532.0L427.3 532.0L427.8 532.0L428.3 532.0L428.8 532.0L429.3 532.0L429.8 532.0L430.3 532.0L430.8 532.0L431.3 532.0L431.8 532.0L432.3 532.0L432.8 532.0L433.3 532.0L433.8 532.0L434.3 531.9L434.8 531.5L435.3 530.0L435.8 526.7L436.3 521.2L436.8 515.5L437.3 513.0L437.8 515.5L438.3 521.2L438.8 526.7L439.3 530.0L439.8 531.5L440.3 531.9L440.8 532.0L441.3 532.0L441.8 532.0L442.3 532.0L442.8 532.0L443.3 532.0L443.8 532.0L444.3 532.0L444.8 532.0L445.3 532.0L445.8 532.0L446.3 532.0L446.8 532.0L447.3 532.0L447.8 532.0L448.3 532.0L448.8 532.0L449.3 532.0L449.8 532.0L450.3 532.0L450.8 532.0L451.3 532.0L451.8 532.0L452.3 532.0L452.8 532.0L453.3 532.0L453.8 532.0L454.3 532.0L454.8 532.0L455.3 532.0L455.8 532.0L456.3 532.0L456.8 532.0L457.3 532.0L457.8 532.0L458.3 532.0L458.8 532.0L459.3 532.0L459.8 532.0L460.3 532.0L460.8 532.0L461.3 532.0L461.8 532.0L462.3 532.0L462.8 532.0L463.3 532.0L463.8 532.0L464.3 532.0L464.8 532.0L465.3 532.0L465.8 532.0L466.3 532.0L466.8 532.0L467.3 532.0L467.8 532.0L468.3 532.0L468.8 532.0L469.3 532.0L469.8 532.0L470.3 532.0L470.8 532.0L471.3 532.0L471.8 532.0L472.3 532.0L472.8 532.0L473.3 532.0M447.9 532.0L448.4 532.0L448.9 532.0L449.4 532.0L449.9 532.0L450.4 532.0L450.9 532.0L451.4 532.0L451.9 532.0L452.4 531.9L452.9 531.8L453.4 531.6L453.9 531.2L454.4 530.4L454.9 528.8L455.4 526.2L455.9 522.0L456.4 515.9L456.9 507.7L457.4 497.5L457.9 486.1L458.4 474.7L458.9 464.9L459.4 458.2L459.9 455.8L460.4 458.2L460.9 464.9L461.4 474.7L461.9 486.1L462.4 497.5L462.9 507.7L463.4 515.9L463.9 522.0L464.4 526.2L464.9 528.8L465.4 530.4L465.9 531.2L466.4 531.6L466.9 531.8L467.4 531.9L467.9 532.0L468.4 532.0L468.9 532.0L469.4 532.0L469.9 532.0L470.4 532.0L470.9 532.0L471.4 532.0L471.9 532.0L472.4 532.0L472.9 532.0L473.4 532.0L473.9 532.0L474.4 532.0L474.9 532.0L475.4 532.0L475.9 532.0L476.4 532.0L476.9 532.0L477.4 532.0L477.9 532.0L478.4 532.0L478.9 532.0L479.4 532.0L479.9 532.0L480.4 532.0L480.9 532.0L481.4 532.0L481.9 532.0L482.4 532.0L482.9 532.0L483.4 532.0L483.9 532.0L484.4 532.0L484.9 532.0L485.4 532.0L485.9 532.0L486.4 532.0L486.9 532.0L487.4 532.0L487.9 532.0L488.4 532.0L488.9 532.0L489.4 532.0L489.9 532.0L490.4 532.0L490.9 532.0L491.4 532.0L491.9 532.0L492.4 532.0L492.9 532.0L493.4 532.0L493.9 532.0L494.4 532.0L494.9 532.0L495.4 532.0L495.9 532.0M463.3 531.9L463.8 531.8L464.3 531.7L464.8 531.5L465.3 531.2L465.8 530.7L466.3 530.0L466.8 528.9L467.3 527.3L467.8 525.1L468.3 522.1L468.8 518.2L469.3 513.2L469.8 506.9L470.3 499.5L470.8 490.9L471.3 481.2L471.8 470.9L472.3 460.2L472.8 449.7L473.3 440.0L473.8 431.6L474.3 425.2L474.8 421.2L475.3 419.8L475.8 421.2L476.3 425.2L476.8 431.6L477.3 440.0L477.8 449.7L478.3 460.2L478.8 470.9L479.3 481.2L479.8 490.9L480.3 499.5L480.8 506.9L481.3 513.2L481.8 518.2L482.3 522.1L482.8 525.1L483.3 527.3L483.8 528.9L484.3 530.0L484.8 530.7L485.3 531.2L485.8 531.5L486.3 531.7L486.8 531.8L487.3 531.9L487.8 532.0L488.3 532.0L488.8 532.0L489.3 532.0L489.8 532.0L490.3 532.0L490.8 532.0L491.3 532.0L491.8 532.0L492.3 532.0L492.8 532.0L493.3 532.0L493.8 532.0L494.3 532.0L494.8 532.0L495.3 532.0L495.8 532.0L496.3 532.0L496.8 532.0L497.3 532.0L497.8 532.0L498.3 532.0L498.8 532.0L499.3 532.0L499.8 532.0L500.3 532.0L500.8 532.0L501.3 532.0L501.8 532.0L502.3 532.0L502.8 532.0L503.3 532.0L503.8 532.0L504.3 532.0L504.8 532.0L505.3 532.0L505.8 532.0L506.3 532.0L506.8 532.0L507.3 532.0L507.8 532.0L508.3 532.0L508.8 532.0L509.3 532.0L509.8 532.0L510.3 532.0L510.8 532.0L511.3 532.0M477.2 520.9L477.7 518.1L478.2 514.6L478.7 510.6L479.2 505.9L479.7 500.4L480.2 494.2L480.7 487.1L481.2 479.3L481.7 470.6L482.2 461.3L482.7 451.3L483.2 440.7L483.7 429.8L484.2 418.6L484.7 407.4L485.2 396.5L485.7 385.9L486.2 376.1L486.7 367.2L487.2 359.4L487.7 353.0L488.2 348.1L488.7 344.9L489.2 343.5L489.8 343.8L490.3 346.0L490.8 349.9L491.3 355.4L491.8 362.4L492.3 370.6L492.8 380.0L493.3 390.1L493.8 400.8L494.3 411.9L494.8 423.1L495.3 434.2L495.8 445.0L496.3 455.4L496.8 465.1L497.3 474.2L497.8 482.5L498.3 490.1L498.8 496.8L499.3 502.7L499.8 507.9L500.3 512.3L500.8 516.1L501.3 519.3L501.8 521.9L502.3 524.1L502.8 525.8L503.3 527.2L503.8 528.4L504.3 529.3L504.8 530.0L505.3 530.5L505.8 530.9L506.3 531.2L506.8 531.4L507.3 531.6L507.8 531.7L508.3 531.8L508.8 531.9L509.3 531.9L509.8 531.9L510.3 532.0L510.8 532.0L511.3 532.0L511.8 532.0L512.3 532.0L512.8 532.0L513.4 532.0L513.9 532.0L514.4 532.0L514.9 532.0L515.4 532.0L515.9 532.0L516.4 532.0L516.9 532.0L517.4 532.0L517.9 532.0L518.4 532.0L518.9 532.0L519.4 532.0L519.9 532.0L520.4 532.0L520.9 532.0L521.4 532.0L521.9 532.0L522.4 532.0L522.9 532.0L523.4 532.0L523.9 532.0L524.4 532.0L524.9 532.0L525.4 532.0M499.9 531.9L500.4 531.9L500.9 531.8L501.4 531.6L501.9 531.2L502.4 530.6L502.9 529.6L503.4 528.0L503.9 525.5L504.4 521.7L504.9 516.3L505.4 508.6L505.9 498.3L506.4 484.9L506.9 468.0L507.4 447.4L507.9 423.6L508.4 397.0L508.9 368.7L509.4 340.2L509.9 313.3L510.4 289.7L510.9 271.3L511.4 259.6L511.9 255.6L512.5 259.6L513.0 271.3L513.5 289.7L514.0 313.3L514.5 340.2L515.0 368.7L515.5 397.0L516.0 423.6L516.5 447.4L517.0 468.0L517.5 484.9L518.0 498.3L518.5 508.6L519.0 516.3L519.5 521.7L520.0 525.5L520.5 528.0L521.0 529.6L521.5 530.6L522.0 531.2L522.5 531.6L523.0 531.8L523.5 531.9L524.0 531.9L524.5 532.0L525.0 532.0L525.5 532.0L526.0 532.0L526.5 532.0L527.0 532.0L527.5 532.0L528.0 532.0L528.5 532.0L529.0 532.0L529.5 532.0L530.0 532.0L530.5 532.0L531.0 532.0L531.5 532.0L532.0 532.0L532.5 532.0L533.0 532.0L533.5 532.0L534.0 532.0L534.5 532.0L535.0 532.0L535.5 532.0L536.0 532.0L536.5 532.0L537.0 532.0L537.5 532.0L538.0 532.0L538.5 532.0L539.0 532.0L539.5 532.0L540.0 532.0L540.5 532.0L541.0 532.0L541.5 532.0L542.0 532.0L542.5 532.0L543.0 532.0L543.5 532.0L544.0 532.0L544.5 532.0L545.0 532.0L545.5 532.0L546.0 532.0L546.5 532.0L547.0 532.0L547.5 532.0L548.0 532.0M515.2 532.0L515.8 532.0L516.2 532.0L516.8 532.0L517.2 532.0L517.8 532.0L518.2 531.9L518.8 531.8L519.2 531.7L519.8 531.3L520.2 530.7L520.8 529.6L521.2 527.8L521.8 524.9L522.2 520.5L522.8 514.4L523.2 506.0L523.8 495.5L524.2 483.0L524.8 469.1L525.2 454.8L525.8 441.5L526.2 430.6L526.8 423.5L527.2 421.0L527.8 423.5L528.2 430.6L528.8 441.5L529.2 454.8L529.8 469.1L530.2 483.0L530.8 495.5L531.2 506.0L531.8 514.4L532.2 520.5L532.8 524.9L533.2 527.8L533.8 529.6L534.2 530.7L534.8 531.3L535.2 531.7L535.8 531.8L536.2 531.9L536.8 532.0L537.2 532.0L537.8 532.0L538.2 532.0L538.8 532.0L539.2 532.0L539.8 532.0L540.2 532.0L540.8 532.0L541.2 532.0L541.8 532.0L542.2 532.0L542.8 532.0L543.2 532.0L543.8 532.0L544.2 532.0L544.8 532.0L545.2 532.0L545.8 532.0L546.2 532.0L546.8 532.0L547.2 532.0L547.8 532.0L548.2 532.0L548.8 532.0L549.2 532.0L549.8 532.0L550.2 532.0L550.8 532.0L551.2 532.0L551.8 532.0L552.2 532.0L552.8 532.0L553.2 532.0L553.8 532.0L554.2 532.0L554.8 532.0L555.2 532.0L555.8 532.0L556.2 532.0L556.8 532.0L557.2 532.0L557.8 532.0L558.2 532.0L558.8 532.0L559.2 532.0L559.8 532.0L560.2 532.0L560.8 532.0L561.2 532.0L561.8 532.0L562.2 532.0L562.8 532.0L563.2 532.0M537.5 532.0L538.0 532.0L538.5 532.0L539.0 532.0L539.5 532.0L540.0 531.9L540.5 531.8L541.0 531.6L541.5 531.3L542.0 530.8L542.5 529.9L543.0 528.5L543.5 526.3L544.0 523.2L544.5 518.9L545.0 513.2L545.5 506.1L546.0 497.5L546.5 487.8L547.0 477.6L547.5 467.4L548.0 458.2L548.5 450.8L549.0 446.1L549.5 444.4L550.0 446.1L550.5 450.8L551.0 458.2L551.5 467.4L552.0 477.6L552.5 487.8L553.0 497.5L553.5 506.1L554.0 513.2L554.5 518.9L555.0 523.2L555.5 526.3L556.0 528.5L556.5 529.9L557.0 530.8L557.5 531.3L558.0 531.6L558.5 531.8L559.0 531.9L559.5 532.0L560.0 532.0L560.5 532.0L561.0 532.0L561.5 532.0L562.0 532.0L562.5 532.0L563.0 532.0L563.5 532.0L564.0 532.0L564.5 532.0L565.0 532.0L565.5 532.0L566.0 532.0L566.5 532.0L567.0 532.0L567.5 532.0L568.0 532.0L568.5 532.0L569.0 532.0L569.5 532.0L570.0 532.0L570.5 532.0L571.0 532.0L571.5 532.0L572.0 532.0L572.5 532.0L573.0 532.0L573.5 532.0L574.0 532.0L574.5 532.0L575.0 532.0L575.5 532.0L576.0 532.0L576.5 532.0L577.0 532.0L577.5 532.0L578.0 532.0L578.5 532.0L579.0 532.0L579.5 532.0L580.0 532.0L580.5 532.0L581.0 532.0L581.5 532.0L582.0 532.0L582.5 532.0L583.0 532.0L583.5 532.0L584.0 532.0L584.5 532.0L585.0 532.0L585.5 532.0M584.9 376.5L585.4 373.4L585.9 370.4L586.4 367.5L586.9 364.6L587.4 361.9L587.9 359.3L588.4 356.8L588.9 354.4L589.4 352.1L589.9 350.0L590.4 347.9L590.9 346.1L591.4 344.4L591.9 342.8L592.4 341.4L592.9 340.1L593.4 339.0L593.9 338.1L594.4 337.3L594.9 336.8L595.4 336.3L595.9 336.1L596.4 336.0L596.9 336.1L597.4 336.4L597.9 336.8L598.4 337.4L598.9 338.2L599.4 339.1L599.9 340.2L600.4 341.5L600.9 342.9L601.4 344.5L601.9 346.2L602.4 348.1L602.9 350.1L603.4 352.3L603.9 354.5L604.4 356.9L604.9 359.5L605.4 362.1L605.9 364.8L606.4 367.7L606.9 370.6L607.4 373.7L607.9 376.8L608.4 379.9L608.9 383.2L609.4 386.5L609.9 389.8L610.4 393.2L610.9 396.7L611.4 400.1L611.9 403.6L612.4 407.1L612.9 410.7L613.4 414.2L613.9 417.7L614.4 421.2L614.9 424.7L615.4 428.2L615.9 431.7L616.4 435.1L616.9 438.5L617.5 441.8L618.0 445.1L618.5 448.4L619.0 451.6L619.5 454.8L620.0 457.8L620.5 460.9L621.0 463.9L621.5 466.8L622.0 469.6L622.5 472.4L623.0 475.0L623.5 477.7L624.0 480.2L624.5 482.7L625.0 485.1L625.5 487.4L626.0 489.6L626.5 491.8L627.0 493.9L627.5 495.9L628.0 497.8L628.5 499.7L629.0 501.4L629.5 503.1L630.0 504.8L630.5 506.4L631.0 507.9L631.5 509.3L632.0 510.6L632.5 512.0L633.0 513.2L633.5 514.4L634.0 515.5L634.5 516.5L635.0 517.5L635.5 518.5L636.0 519.4L636.5 520.3L637.0 521.1L637.5 521.8L638.0 522.5L638.5 523.2L639.0 523.8L639.5 524.4L640.0 525.0L640.5 525.5L641.0 526.0L641.5 526.4L642.0 526.9L642.5 527.3L643.0 527.6L643.5 528.0L644.0 528.3L644.5 528.6L645.0 528.9L645.5 529.1L646.0 529.4L646.5 529.6L647.0 529.8L647.5 530.0L648.0 530.2L648.5 530.3L649.0 530.5L649.5 530.6L650.0 530.7M600.3 530.2L600.8 529.3L601.3 528.0L601.8 526.3L602.3 523.8L602.8 520.6L603.3 516.4L603.8 511.0L604.3 504.1L604.8 495.7L605.3 485.4L605.8 473.4L606.3 459.4L606.8 443.7L607.3 426.3L607.8 407.7L608.3 388.3L608.8 368.7L609.3 349.5L609.8 331.5L610.3 315.5L610.8 302.2L611.3 292.1L611.8 285.9L612.3 283.8L612.8 285.9L613.3 292.1L613.8 302.2L614.3 315.5L614.8 331.5L615.3 349.5L615.8 368.7L616.3 388.3L616.8 407.7L617.3 426.3L617.8 443.7L618.3 459.4L618.8 473.4L619.3 485.4L619.8 495.7L620.3 504.1L620.8 511.0L621.3 516.4L621.8 520.6L622.3 523.8L622.8 526.3L623.3 528.0L623.8 529.3L624.3 530.2L624.8 530.8L625.3 531.2L625.8 531.5L626.3 531.7L626.8 531.8L627.3 531.9L627.8 531.9L628.3 532.0L628.8 532.0L629.3 532.0L629.8 532.0L630.3 532.0L630.8 532.0L631.3 532.0L631.8 532.0L632.3 532.0L632.8 532.0L633.3 532.0L633.8 532.0L634.3 532.0L634.8 532.0L635.3 532.0L635.8 532.0L636.3 532.0L636.8 532.0L637.3 532.0L637.8 532.0L638.3 532.0L638.8 532.0L639.3 532.0L639.8 532.0L640.3 532.0L640.8 532.0L641.3 532.0L641.8 532.0L642.3 532.0L642.8 532.0L643.3 532.0L643.8 532.0L644.3 532.0L644.8 532.0L645.3 532.0L645.8 532.0L646.3 532.0L646.8 532.0L647.3 532.0L647.8 532.0L648.3 532.0M615.5 532.0L616.0 531.9L616.5 531.9L617.0 531.8L617.5 531.7L618.0 531.5L618.5 531.2L619.0 530.7L619.5 530.0L620.0 529.0L620.5 527.7L621.0 525.9L621.5 523.7L622.0 520.9L622.5 517.5L623.0 513.5L623.5 509.1L624.0 504.3L624.5 499.3L625.0 494.4L625.5 489.9L626.0 486.0L626.5 483.0L627.0 481.0L627.5 480.4L628.0 481.0L628.5 483.0L629.0 486.0L629.5 489.9L630.0 494.4L630.5 499.3L631.0 504.3L631.5 509.1L632.0 513.5L632.5 517.5L633.0 520.9L633.5 523.7L634.0 525.9L634.5 527.7L635.0 529.0L635.5 530.0L636.0 530.7L636.5 531.2L637.0 531.5L637.5 531.7L638.0 531.8L638.5 531.9L639.0 531.9L639.5 532.0L640.0 532.0L640.5 532.0L641.0 532.0L641.5 532.0L642.0 532.0L642.5 532.0L643.0 532.0L643.5 532.0L644.0 532.0L644.5 532.0L645.0 532.0L645.5 532.0L646.0 532.0L646.5 532.0L647.0 532.0L647.5 532.0L648.0 532.0L648.5 532.0L649.0 532.0L649.5 532.0L650.0 532.0L650.5 532.0L651.0 532.0L651.5 532.0L652.0 532.0L652.5 532.0L653.0 532.0L653.5 532.0L654.0 532.0L654.5 532.0L655.0 532.0L655.5 532.0L656.0 532.0L656.5 532.0L657.0 532.0L657.5 532.0L658.0 532.0L658.5 532.0L659.0 532.0L659.5 532.0L660.0 532.0L660.5 532.0L661.0 532.0L661.5 532.0L662.0 532.0L662.5 532.0L663.0 532.0L663.5 532.0M631.8 532.0L632.2 532.0L632.8 531.9L633.2 531.8L633.8 531.7L634.2 531.4L634.8 531.0L635.2 530.4L635.8 529.4L636.2 528.0L636.8 525.8L637.2 522.8L637.8 518.8L638.2 513.5L638.8 506.8L639.2 498.8L639.8 489.4L640.2 479.0L640.8 467.8L641.2 456.7L641.8 446.1L642.2 436.8L642.8 429.6L643.2 425.0L643.8 423.4L644.2 425.0L644.8 429.6L645.2 436.8L645.8 446.1L646.2 456.7L646.8 467.8L647.2 479.0L647.8 489.4L648.2 498.8L648.8 506.8L649.2 513.5L649.8 518.8L650.2 522.8L650.8 525.8L651.2 528.0L651.8 529.4L652.2 530.4L652.8 531.0L653.2 531.4L653.8 531.7L654.2 531.8L654.8 531.9L655.2 532.0L655.8 532.0L656.2 532.0L656.8 532.0L657.2 532.0L657.8 532.0L658.2 532.0L658.8 532.0L659.2 532.0L659.8 532.0L660.2 532.0L660.8 532.0L661.2 532.0L661.8 532.0L662.2 532.0L662.8 532.0L663.2 532.0L663.8 532.0L664.2 532.0L664.8 532.0L665.2 532.0L665.8 532.0L666.2 532.0L666.8 532.0L667.2 532.0L667.8 532.0L668.2 532.0L668.8 532.0L669.2 532.0L669.8 532.0L670.2 532.0L670.8 532.0L671.2 532.0L671.8 532.0L672.2 532.0L672.8 532.0L673.2 532.0L673.8 532.0L674.2 532.0L674.8 532.0L675.2 532.0L675.8 532.0L676.2 532.0L676.8 532.0L677.2 532.0L677.8 532.0L678.2 532.0L678.8 532.0L679.2 532.0L679.8 532.0M671.6 527.1L672.1 525.5L672.6 523.5L673.1 521.1L673.6 518.2L674.1 514.6L674.6 510.4L675.1 505.5L675.6 499.9L676.1 493.5L676.6 486.4L677.1 478.5L677.6 470.1L678.1 461.2L678.6 451.9L679.1 442.5L679.6 433.1L680.1 424.1L680.6 415.5L681.1 407.8L681.6 401.1L682.1 395.6L682.6 391.5L683.1 389.0L683.6 388.2L684.1 389.0L684.6 391.5L685.1 395.6L685.6 401.1L686.1 407.8L686.6 415.5L687.1 424.1L687.6 433.1L688.1 442.5L688.6 451.9L689.1 461.2L689.6 470.1L690.1 478.5L690.6 486.4L691.1 493.5L691.6 499.9L692.1 505.5L692.6 510.4L693.1 514.6L693.6 518.2L694.1 521.1L694.6 523.5L695.1 525.5L695.6 527.1L696.1 528.3L696.6 529.3L697.1 530.0L697.6 530.5L698.1 531.0L698.6 531.3L699.1 531.5L699.6 531.6L700.1 531.8L700.6 531.8L701.1 531.9L701.6 531.9L702.1 532.0L702.6 532.0L703.1 532.0L703.6 532.0L704.1 532.0L704.6 532.0L705.1 532.0L705.6 532.0L706.1 532.0L706.6 532.0L707.1 532.0L707.6 532.0L708.1 532.0L708.6 532.0L709.1 532.0L709.6 532.0L710.1 532.0L710.6 532.0L711.1 532.0L711.6 532.0L712.1 532.0L712.6 532.0L713.1 532.0L713.6 532.0L714.1 532.0L714.6 532.0L715.1 532.0L715.6 532.0L716.1 532.0L716.6 532.0L717.1 532.0L717.6 532.0L718.1 532.0L718.6 532.0L719.1 532.0L719.6 532.0M727.9 507.9L728.4 502.5L728.9 496.1L729.4 488.7L729.9 480.3L730.4 470.8L730.9 460.2L731.4 448.5L731.9 435.8L732.4 422.2L732.9 407.8L733.4 392.8L733.9 377.3L734.4 361.6L734.9 346.1L735.4 331.0L735.9 316.6L736.4 303.3L736.9 291.3L737.4 280.9L737.9 272.5L738.4 266.2L738.9 262.2L739.4 260.6L739.9 261.5L740.4 264.8L740.9 270.4L741.4 278.2L741.9 288.0L742.4 299.5L742.9 312.4L743.4 326.6L743.9 341.5L744.4 356.9L744.9 372.6L745.4 388.1L745.9 403.3L746.4 417.9L746.9 431.8L747.4 444.8L747.9 456.8L748.4 467.7L748.9 477.5L749.4 486.3L749.9 493.9L750.4 500.6L750.9 506.4L751.4 511.2L752.0 515.3L752.5 518.8L753.0 521.6L753.5 523.8L754.0 525.7L754.5 527.2L755.0 528.3L755.5 529.2L756.0 529.9L756.5 530.5L757.0 530.9L757.5 531.2L758.0 531.4L758.5 531.6L759.0 531.7L759.5 531.8L760.0 531.9L760.5 531.9L761.0 531.9L761.5 532.0L762.0 532.0L762.5 532.0L763.0 532.0L763.5 532.0L764.0 532.0L764.5 532.0L765.0 532.0L765.5 532.0L766.0 532.0L766.5 532.0L767.0 532.0L767.5 532.0L768.0 532.0L768.5 532.0L769.0 532.0L769.5 532.0L770.0 532.0L770.5 532.0L771.0 532.0L771.5 532.0L772.0 532.0L772.5 532.0L773.0 532.0L773.5 532.0L774.0 532.0L774.5 532.0L775.0 532.0L775.5 532.0M740.3 532.0L740.8 532.0L741.3 532.0L741.8 532.0L742.3 532.0L742.8 532.0L743.3 532.0L743.8 532.0L744.3 532.0L744.8 532.0L745.3 532.0L745.8 532.0L746.3 532.0L746.8 532.0L747.3 532.0L747.8 532.0L748.3 532.0L748.8 532.0L749.3 532.0L749.8 531.6L750.3 527.7L750.8 504.6L751.3 428.7L751.8 302.6L752.3 232.8L752.8 302.6L753.3 428.7L753.8 504.6L754.3 527.7L754.8 531.6L755.3 532.0L755.8 532.0L756.3 532.0L756.8 532.0L757.3 532.0L757.8 532.0L758.3 532.0L758.8 532.0L759.3 532.0L759.8 532.0L760.3 532.0L760.8 532.0L761.3 532.0L761.8 532.0L762.3 532.0L762.8 532.0L763.3 532.0L763.8 532.0L764.3 532.0L764.8 532.0L765.3 532.0L765.8 532.0L766.3 532.0L766.8 532.0L767.3 532.0L767.8 532.0L768.3 532.0L768.8 532.0L769.3 532.0L769.8 532.0L770.3 532.0L770.8 532.0L771.3 532.0L771.8 532.0L772.3 532.0L772.8 532.0L773.3 532.0L773.8 532.0L774.3 532.0L774.8 532.0L775.3 532.0L775.8 532.0L776.3 532.0L776.8 532.0L777.3 532.0L777.8 532.0L778.3 532.0L778.8 532.0L779.3 532.0L779.8 532.0L780.3 532.0L780.8 532.0L781.3 532.0L781.8 532.0L782.3 532.0L782.8 532.0L783.3 532.0L783.8 532.0L784.3 532.0L784.8 532.0L785.3 532.0L785.8 532.0L786.3 532.0L786.8 532.0L787.3 532.0L787.8 532.0L788.3 532.0M760.5 532.0L761.0 532.0L761.5 532.0L762.0 532.0L762.5 532.0L763.0 532.0L763.5 532.0L764.0 532.0L764.5 532.0L765.0 531.9L765.5 531.9L766.0 531.6L766.5 531.1L767.0 530.0L767.5 527.7L768.0 523.6L768.5 516.6L769.0 505.7L769.5 490.3L770.0 470.5L770.5 447.3L771.0 423.4L771.5 402.4L772.0 387.8L772.5 382.6L773.0 387.8L773.5 402.4L774.0 423.4L774.5 447.3L775.0 470.5L775.5 490.3L776.0 505.7L776.5 516.6L777.0 523.6L777.5 527.7L778.0 530.0L778.5 531.1L779.0 531.6L779.5 531.9L780.0 531.9L780.5 532.0L781.0 532.0L781.5 532.0L782.0 532.0L782.5 532.0L783.0 532.0L783.5 532.0L784.0 532.0L784.5 532.0L785.0 532.0L785.5 532.0L786.0 532.0L786.5 532.0L787.0 532.0L787.5 532.0L788.0 532.0L788.5 532.0L789.0 532.0L789.5 532.0L790.0 532.0L790.5 532.0L791.0 532.0L791.5 532.0L792.0 532.0L792.5 532.0L793.0 532.0L793.5 532.0L794.0 532.0L794.5 532.0L795.0 532.0L795.5 532.0L796.0 532.0L796.5 532.0L797.0 532.0L797.5 532.0L798.0 532.0L798.5 532.0L799.0 532.0L799.5 532.0L800.0 532.0L800.5 532.0L801.0 532.0L801.5 532.0L802.0 532.0L802.5 532.0L803.0 532.0L803.5 532.0L804.0 532.0L804.5 532.0L805.0 532.0L805.5 532.0L806.0 532.0L806.5 532.0L807.0 532.0L807.5 532.0L808.0 532.0L808.5 532.0M769.7 531.2L770.2 530.7L770.7 530.0L771.2 528.9L771.7 527.4L772.2 525.2L772.7 522.1L773.2 518.0L773.7 512.5L774.2 505.4L774.7 496.5L775.2 485.5L775.7 472.2L776.2 456.8L776.7 439.3L777.2 419.9L777.7 399.1L778.2 377.7L778.7 356.3L779.2 335.8L779.7 317.4L780.2 301.8L780.7 290.1L781.2 282.7L781.7 280.2L782.2 282.7L782.7 290.1L783.2 301.8L783.7 317.4L784.2 335.8L784.7 356.3L785.2 377.7L785.7 399.1L786.2 419.9L786.7 439.3L787.2 456.8L787.7 472.2L788.2 485.5L788.7 496.5L789.2 505.4L789.7 512.5L790.2 518.0L790.7 522.1L791.2 525.2L791.7 527.4L792.2 528.9L792.7 530.0L793.2 530.7L793.7 531.2L794.2 531.5L794.7 531.7L795.2 531.8L795.7 531.9L796.2 531.9L796.7 532.0L797.2 532.0L797.7 532.0L798.2 532.0L798.7 532.0L799.2 532.0L799.7 532.0L800.2 532.0L800.7 532.0L801.2 532.0L801.7 532.0L802.2 532.0L802.7 532.0L803.2 532.0L803.7 532.0L804.2 532.0L804.7 532.0L805.2 532.0L805.7 532.0L806.2 532.0L806.7 532.0L807.2 532.0L807.7 532.0L808.2 532.0L808.7 532.0L809.2 532.0L809.7 532.0L810.2 532.0L810.7 532.0L811.2 532.0L811.7 532.0L812.2 532.0L812.7 532.0L813.2 532.0L813.7 532.0L814.2 532.0L814.7 532.0L815.2 532.0L815.7 532.0L816.2 532.0L816.7 532.0L817.2 532.0L817.7 532.0M793.7 530.3L794.2 529.7L794.7 528.9L795.2 527.9L795.7 526.6L796.2 525.0L796.7 523.1L797.2 520.7L797.7 518.0L798.2 514.8L798.7 511.1L799.2 507.0L799.7 502.4L800.2 497.5L800.7 492.3L801.2 487.0L801.7 481.6L802.2 476.3L802.7 471.3L803.2 466.6L803.7 462.6L804.2 459.3L804.7 456.8L805.2 455.3L805.7 454.8L806.2 455.3L806.7 456.8L807.2 459.3L807.7 462.6L808.2 466.6L808.7 471.3L809.2 476.3L809.7 481.6L810.2 487.0L810.7 492.3L811.2 497.5L811.7 502.4L812.2 507.0L812.7 511.1L813.2 514.8L813.7 518.0L814.2 520.7L814.7 523.1L815.2 525.0L815.7 526.6L816.2 527.9L816.7 528.9L817.2 529.7L817.7 530.3L818.2 530.8L818.7 531.1L819.2 531.4L819.7 531.6L820.2 531.7L820.7 531.8L821.2 531.9L821.7 531.9L822.2 531.9L822.7 532.0L823.2 532.0L823.7 532.0L824.2 532.0L824.7 532.0L825.2 532.0L825.7 532.0L826.2 532.0L826.7 532.0L827.2 532.0L827.7 532.0L828.2 532.0L828.7 532.0L829.2 532.0L829.7 532.0L830.2 532.0L830.7 532.0L831.2 532.0L831.7 532.0L832.2 532.0L832.7 532.0L833.2 532.0L833.7 532.0L834.2 532.0L834.7 532.0L835.2 532.0L835.7 532.0L836.2 532.0L836.7 532.0L837.2 532.0L837.7 532.0L838.2 532.0L838.7 532.0L839.2 532.0L839.7 532.0L840.2 532.0L840.7 532.0L841.2 532.0L841.7 532.0M798.5 531.9L799.0 531.9L799.5 531.8L800.0 531.7L800.5 531.4L801.0 531.1L801.5 530.5L802.0 529.7L802.5 528.5L803.0 526.8L803.5 524.5L804.0 521.4L804.5 517.5L805.0 512.5L805.5 506.6L806.0 499.7L806.5 491.9L807.0 483.5L807.5 474.8L808.0 466.3L808.5 458.4L809.0 451.5L809.5 446.3L810.0 442.9L810.5 441.8L811.0 442.9L811.5 446.3L812.0 451.5L812.5 458.4L813.0 466.3L813.5 474.8L814.0 483.5L814.5 491.9L815.0 499.7L815.5 506.6L816.0 512.5L816.5 517.5L817.0 521.4L817.5 524.5L818.0 526.8L818.5 528.5L819.0 529.7L819.5 530.5L820.0 531.1L820.5 531.4L821.0 531.7L821.5 531.8L822.0 531.9L822.5 531.9L823.0 532.0L823.5 532.0L824.0 532.0L824.5 532.0L825.0 532.0L825.5 532.0L826.0 532.0L826.5 532.0L827.0 532.0L827.5 532.0L828.0 532.0L828.5 532.0L829.0 532.0L829.5 532.0L830.0 532.0L830.5 532.0L831.0 532.0L831.5 532.0L832.0 532.0L832.5 532.0L833.0 532.0L833.5 532.0L834.0 532.0L834.5 532.0L835.0 532.0L835.5 532.0L836.0 532.0L836.5 532.0L837.0 532.0L837.5 532.0L838.0 532.0L838.5 532.0L839.0 532.0L839.5 532.0L840.0 532.0L840.5 532.0L841.0 532.0L841.5 532.0L842.0 532.0L842.5 532.0L843.0 532.0L843.5 532.0L844.0 532.0L844.5 532.0L845.0 532.0L845.5 532.0L846.0 532.0L846.5 532.0M819.2 532.0L819.8 532.0L820.2 532.0L820.8 532.0L821.2 532.0L821.8 532.0L822.2 532.0L822.8 532.0L823.2 532.0L823.8 532.0L824.2 532.0L824.8 532.0L825.2 532.0L825.8 532.0L826.2 532.0L826.8 532.0L827.2 532.0L827.8 532.0L828.2 532.0L828.8 531.9L829.2 530.5L829.8 522.2L830.2 494.8L830.8 449.5L831.2 424.4L831.8 449.5L832.2 494.8L832.8 522.2L833.2 530.5L833.8 531.9L834.2 532.0L834.8 532.0L835.2 532.0L835.8 532.0L836.2 532.0L836.8 532.0L837.2 532.0L837.8 532.0L838.2 532.0L838.8 532.0L839.2 532.0L839.8 532.0L840.2 532.0L840.8 532.0L841.2 532.0L841.8 532.0L842.2 532.0L842.8 532.0L843.2 532.0L843.8 532.0L844.2 532.0L844.8 532.0L845.2 532.0L845.8 532.0L846.2 532.0L846.8 532.0L847.2 532.0L847.8 532.0L848.2 532.0L848.8 532.0L849.2 532.0L849.8 532.0L850.2 532.0L850.8 532.0L851.2 532.0L851.8 532.0L852.2 532.0L852.8 532.0L853.2 532.0L853.8 532.0L854.2 532.0L854.8 532.0L855.2 532.0L855.8 532.0L856.2 532.0L856.8 532.0L857.2 532.0L857.8 532.0L858.2 532.0L858.8 532.0L859.2 532.0L859.8 532.0L860.2 532.0L860.8 532.0L861.2 532.0L861.8 532.0L862.2 532.0L862.8 532.0L863.2 532.0L863.8 532.0L864.2 532.0L864.8 532.0L865.2 532.0L865.8 532.0L866.2 532.0L866.8 532.0L867.2 532.0M835.9 531.8L836.4 531.6L836.9 531.2L837.4 530.6L837.9 529.6L838.4 528.0L838.9 525.5L839.4 521.6L839.9 515.9L840.4 507.7L840.9 496.3L841.4 480.9L841.9 460.8L842.4 435.4L842.9 404.4L843.4 367.7L843.9 326.1L844.4 280.7L844.9 233.4L845.4 186.4L845.9 142.6L846.4 104.6L846.9 75.3L847.4 56.8L847.9 50.4L848.4 56.8L848.9 75.3L849.4 104.6L849.9 142.6L850.4 186.4L850.9 233.4L851.4 280.7L851.9 326.1L852.4 367.7L852.9 404.4L853.4 435.4L853.9 460.8L854.4 480.9L854.9 496.3L855.4 507.7L855.9 515.9L856.4 521.6L856.9 525.5L857.4 528.0L857.9 529.6L858.4 530.6L858.9 531.2L859.4 531.6L859.9 531.8L860.4 531.9L860.9 531.9L861.4 532.0L861.9 532.0L862.4 532.0L862.9 532.0L863.4 532.0L863.9 532.0L864.4 532.0L864.9 532.0L865.4 532.0L865.9 532.0L866.4 532.0L866.9 532.0L867.4 532.0L867.9 532.0L868.4 532.0L868.9 532.0L869.4 532.0L869.9 532.0L870.4 532.0L870.9 532.0L871.4 532.0L871.9 532.0L872.4 532.0L872.9 532.0L873.4 532.0L873.9 532.0L874.4 532.0L874.9 532.0L875.4 532.0L875.9 532.0L876.4 532.0L876.9 532.0L877.4 532.0L877.9 532.0L878.4 532.0L878.9 532.0L879.4 532.0L879.9 532.0L880.4 532.0L880.9 532.0L881.4 532.0L881.9 532.0L882.4 532.0L882.9 532.0L883.4 532.0L883.9 532.0M854.5 524.5L855.0 521.7L855.5 518.1L856.0 513.4L856.5 507.4L857.0 500.0L857.5 490.9L858.0 479.9L858.5 466.8L859.0 451.6L859.5 434.1L860.0 414.4L860.5 392.7L861.0 369.3L861.5 344.4L862.0 318.6L862.5 292.6L863.0 266.9L863.5 242.5L864.0 220.2L864.5 200.5L865.0 184.5L865.5 172.5L866.0 165.1L866.5 162.6L867.0 165.1L867.5 172.5L868.0 184.5L868.5 200.5L869.0 220.2L869.5 242.5L870.0 266.9L870.5 292.6L871.0 318.6L871.5 344.4L872.0 369.3L872.5 392.7L873.0 414.4L873.5 434.1L874.0 451.6L874.5 466.8L875.0 479.9L875.5 490.9L876.0 500.0L876.5 507.4L877.0 513.4L877.5 518.1L878.0 521.7L878.5 524.5L879.0 526.6L879.5 528.2L880.0 529.4L880.5 530.2L881.0 530.8L881.5 531.2L882.0 531.5L882.5 531.6L883.0 531.8L883.5 531.9L884.0 531.9L884.5 531.9L885.0 532.0L885.5 532.0L886.0 532.0L886.5 532.0L887.0 532.0L887.5 532.0L888.0 532.0L888.5 532.0L889.0 532.0L889.5 532.0L890.0 532.0L890.5 532.0L891.0 532.0L891.5 532.0L892.0 532.0L892.5 532.0L893.0 532.0L893.5 532.0L894.0 532.0L894.5 532.0L895.0 532.0L895.5 532.0L896.0 532.0L896.5 532.0L897.0 532.0L897.5 532.0L898.0 532.0L898.5 532.0L899.0 532.0L899.5 532.0L900.0 532.0L900.5 532.0L901.0 532.0L901.5 532.0L902.0 532.0L902.5 532.0M890.2 504.7L890.8 498.9L891.2 492.2L891.8 484.6L892.2 475.9L892.8 466.2L893.2 455.4L893.8 443.6L894.2 430.8L894.8 417.1L895.2 402.6L895.8 387.4L896.2 371.8L896.8 356.0L897.2 340.2L897.8 324.6L898.2 309.7L898.8 295.6L899.2 282.6L899.8 271.1L900.2 261.3L900.8 253.5L901.2 247.7L901.8 244.2L902.2 243.0L902.8 244.2L903.2 247.7L903.8 253.5L904.2 261.3L904.8 271.1L905.2 282.6L905.8 295.6L906.2 309.7L906.8 324.6L907.2 340.2L907.8 356.0L908.2 371.8L908.8 387.4L909.2 402.6L909.8 417.1L910.2 430.8L910.8 443.6L911.2 455.4L911.8 466.2L912.2 475.9L912.8 484.6L913.2 492.2L913.8 498.9L914.2 504.7L914.8 509.7L915.2 513.9L915.8 517.4L916.2 520.4L916.8 522.8L917.2 524.8L917.8 526.4L918.2 527.7L918.8 528.7L919.2 529.5L919.8 530.1L920.2 530.6L920.8 530.9L921.2 531.2L921.8 531.4L922.2 531.6L922.8 531.7L923.2 531.8L923.8 531.9L924.2 531.9L924.8 531.9L925.2 532.0L925.8 532.0L926.2 532.0L926.8 532.0L927.2 532.0L927.8 532.0L928.2 532.0L928.8 532.0L929.2 532.0L929.8 532.0L930.2 532.0L930.8 532.0L931.2 532.0L931.8 532.0L932.2 532.0L932.8 532.0L933.2 532.0L933.8 532.0L934.2 532.0L934.8 532.0L935.2 532.0L935.8 532.0L936.2 532.0L936.8 532.0L937.2 532.0L937.8 532.0L938.2 532.0M938.9 367.4L939.4 364.1L939.9 360.9L940.4 357.8L940.9 354.8L941.4 351.9L941.9 349.1L942.4 346.4L942.9 343.8L943.4 341.3L943.9 339.0L944.4 336.8L944.9 334.7L945.4 332.8L945.9 331.0L946.4 329.4L946.9 328.0L947.4 326.7L947.9 325.5L948.4 324.6L948.9 323.8L949.4 323.2L949.9 322.8L950.4 322.5L950.9 322.4L951.4 322.5L951.9 322.8L952.4 323.2L952.9 323.8L953.4 324.6L953.9 325.5L954.4 326.7L954.9 328.0L955.4 329.4L955.9 331.0L956.4 332.8L956.9 334.7L957.4 336.8L957.9 339.0L958.4 341.3L958.9 343.8L959.4 346.4L959.9 349.1L960.4 351.9L960.9 354.8L961.4 357.8L961.9 360.9L962.4 364.1L962.9 367.4L963.4 370.8L963.9 374.2L964.4 377.7L964.9 381.2L965.4 384.8L965.9 388.4L966.4 392.0L966.9 395.6L967.4 399.3L967.9 403.0L968.4 406.7L968.9 410.4L969.4 414.0L969.9 417.7L970.4 421.3L970.9 424.9L971.4 428.5L971.9 432.1L972.4 435.6L972.9 439.0L973.4 442.4L973.9 445.8L974.4 449.1L974.9 452.3L975.4 455.5L975.9 458.6L976.4 461.7L976.9 464.7L977.4 467.6L977.9 470.4L978.4 473.1L978.9 475.8L979.4 478.4L979.9 481.0L980.4 483.4L980.9 485.8L981.4 488.1L981.9 490.3L982.4 492.4L982.9 494.5L983.4 496.4L983.9 498.3L984.4 500.2L984.9 501.9L985.4 503.6L985.9 505.2L986.4 506.8L986.9 508.2M932.2 517.3L932.7 513.6L933.2 509.2L933.7 504.0L934.2 498.0L934.7 491.1L935.2 483.2L935.7 474.4L936.2 464.6L936.7 453.8L937.2 442.3L937.7 430.0L938.2 417.1L938.7 403.8L939.2 390.3L939.7 376.9L940.2 363.9L940.7 351.4L941.2 339.9L941.7 329.6L942.2 320.7L942.7 313.6L943.2 308.3L943.7 305.1L944.2 304.0L944.7 305.1L945.2 308.3L945.7 313.6L946.2 320.7L946.7 329.6L947.2 339.9L947.7 351.4L948.2 363.9L948.7 376.9L949.2 390.3L949.7 403.8L950.2 417.1L950.7 430.0L951.2 442.3L951.7 453.8L952.2 464.6L952.7 474.4L953.2 483.2L953.7 491.1L954.2 498.0L954.7 504.0L955.2 509.2L955.7 513.6L956.2 517.3L956.7 520.3L957.2 522.9L957.7 524.9L958.2 526.5L958.7 527.8L959.2 528.9L959.7 529.6L960.2 530.3L960.7 530.7L961.2 531.1L961.7 531.3L962.2 531.5L962.7 531.7L963.2 531.8L963.7 531.8L964.2 531.9L964.7 531.9L965.2 531.9L965.7 532.0L966.2 532.0L966.7 532.0L967.2 532.0L967.7 532.0L968.2 532.0L968.7 532.0L969.2 532.0L969.7 532.0L970.2 532.0L970.7 532.0L971.2 532.0L971.7 532.0L972.2 532.0L972.7 532.0L973.2 532.0L973.7 532.0L974.2 532.0L974.7 532.0L975.2 532.0L975.7 532.0L976.2 532.0L976.7 532.0L977.2 532.0L977.7 532.0L978.2 532.0L978.7 532.0L979.2 532.0L979.7 532.0L980.2 532.0M945.9 499.5L946.4 493.8L946.9 487.5L947.4 480.5L947.9 472.8L948.4 464.5L948.9 455.4L949.4 445.7L949.9 435.5L950.4 424.8L950.9 413.7L951.4 402.3L951.9 390.8L952.4 379.3L952.9 368.0L953.4 357.1L953.9 346.6L954.4 336.9L954.9 328.1L955.4 320.4L955.9 313.8L956.4 308.5L956.9 304.7L957.4 302.4L957.9 301.6L958.4 302.4L958.9 304.7L959.4 308.5L959.9 313.8L960.4 320.4L960.9 328.1L961.4 336.9L961.9 346.6L962.4 357.1L962.9 368.0L963.4 379.3L963.9 390.8L964.4 402.3L964.9 413.7L965.4 424.8L965.9 435.5L966.4 445.7L966.9 455.4L967.4 464.5L967.9 472.8L968.4 480.5L968.9 487.5L969.4 493.8L969.9 499.5L970.4 504.5L970.9 508.8L971.4 512.7L971.9 516.0L972.4 518.8L972.9 521.2L973.4 523.2L973.9 524.9L974.4 526.3L974.9 527.5L975.4 528.4L975.9 529.2L976.4 529.8L976.9 530.3L977.4 530.7L977.9 531.0L978.4 531.2L978.9 531.4L979.4 531.6L979.9 531.7L980.4 531.8L980.9 531.8L981.4 531.9L981.9 531.9L982.4 531.9L982.9 532.0L983.4 532.0L983.9 532.0L984.4 532.0L984.9 532.0L985.4 532.0L985.9 532.0L986.4 532.0L986.9 532.0L987.4 532.0L987.9 532.0L988.4 532.0L988.9 532.0L989.4 532.0L989.9 532.0L990.4 532.0L990.9 532.0L991.4 532.0L991.9 532.0L992.4 532.0L992.9 532.0L993.4 532.0L993.9 532.0M958.7 524.3L959.2 522.6L959.7 520.7L960.2 518.4L960.7 515.9L961.2 513.1L961.7 510.0L962.2 506.5L962.7 502.8L963.2 498.8L963.7 494.5L964.2 490.1L964.7 485.5L965.2 480.8L965.7 476.1L966.2 471.6L966.7 467.1L967.2 463.0L967.7 459.1L968.2 455.7L968.7 452.8L969.2 450.5L969.7 448.8L970.2 447.8L970.7 447.4L971.2 447.8L971.7 448.8L972.2 450.5L972.7 452.8L973.2 455.7L973.7 459.1L974.2 463.0L974.7 467.1L975.2 471.6L975.7 476.1L976.2 480.8L976.7 485.5L977.2 490.1L977.7 494.5L978.2 498.8L978.7 502.8L979.2 506.5L979.7 510.0L980.2 513.1L980.7 515.9L981.2 518.4L981.7 520.7L982.2 522.6L982.7 524.3L983.2 525.7L983.7 526.9L984.2 527.9L984.7 528.7L985.2 529.4L985.7 530.0L986.2 530.4L986.7 530.8L987.2 531.1L987.7 531.3L988.2 531.5L988.7 531.6L989.2 531.7L989.7 531.8L990.2 531.8L990.7 531.9L991.2 531.9L991.7 531.9L992.2 532.0L992.7 532.0L993.2 532.0L993.7 532.0L994.2 532.0L994.7 532.0L995.2 532.0L995.7 532.0L996.2 532.0L996.7 532.0L997.2 532.0L997.7 532.0L998.2 532.0L998.7 532.0L999.2 532.0L999.7 532.0L1000.2 532.0L1000.7 532.0L1001.2 532.0L1001.7 532.0L1002.2 532.0L1002.7 532.0L1003.2 532.0L1003.7 532.0L1004.2 532.0L1004.7 532.0L1005.2 532.0L1005.7 532.0L1006.2 532.0L1006.7 532.0M980.0 532.0L980.5 532.0L981.0 532.0L981.5 532.0L982.0 532.0L982.5 532.0L983.0 531.9L983.5 531.9L984.0 531.8L984.5 531.5L985.0 531.2L985.5 530.7L986.0 529.9L986.5 528.7L987.0 527.1L987.5 525.0L988.0 522.4L988.5 519.2L989.0 515.6L989.5 511.7L990.0 508.0L990.5 504.5L991.0 501.8L991.5 500.0L992.0 499.4L992.5 500.0L993.0 501.8L993.5 504.5L994.0 508.0L994.5 511.7L995.0 515.6L995.5 519.2L996.0 522.4L996.5 525.0L997.0 527.1L997.5 528.7L998.0 529.9L998.5 530.7L999.0 531.2L999.5 531.5L1000.0 531.8L1000.5 531.9L1001.0 531.9L1001.5 532.0L1002.0 532.0L1002.5 532.0L1003.0 532.0L1003.5 532.0L1004.0 532.0L1004.5 532.0L1005.0 532.0L1005.5 532.0L1006.0 532.0L1006.5 532.0L1007.0 532.0L1007.5 532.0L1008.0 532.0L1008.5 532.0L1009.0 532.0L1009.5 532.0L1010.0 532.0L1010.5 532.0L1011.0 532.0L1011.5 532.0L1012.0 532.0L1012.5 532.0L1013.0 532.0L1013.5 532.0L1014.0 532.0L1014.5 532.0L1015.0 532.0L1015.5 532.0L1016.0 532.0L1016.5 532.0L1017.0 532.0L1017.5 532.0L1018.0 532.0L1018.5 532.0L1019.0 532.0L1019.5 532.0L1020.0 532.0L1020.5 532.0L1021.0 532.0L1021.5 532.0L1022.0 532.0L1022.5 532.0L1023.0 532.0L1023.5 532.0L1024.0 532.0L1024.5 532.0L1025.0 532.0L1025.5 532.0L1026.0 532.0L1026.5 532.0L1027.0 532.0L1027.5 532.0L1028.0 532.0M989.3 532.0L989.8 532.0L990.3 532.0L990.8 532.0L991.3 532.0L991.8 532.0L992.3 532.0L992.8 532.0L993.3 532.0L993.8 532.0L994.3 532.0L994.8 532.0L995.3 532.0L995.8 532.0L996.3 532.0L996.8 532.0L997.3 532.0L997.8 532.0L998.3 532.0L998.8 531.9L999.3 531.4L999.8 528.9L1000.3 521.7L1000.8 510.8L1001.3 505.0L1001.8 510.8L1002.3 521.7L1002.8 528.9L1003.3 531.4L1003.8 531.9L1004.3 532.0L1004.8 532.0L1005.3 532.0L1005.8 532.0L1006.3 532.0L1006.8 532.0L1007.3 532.0L1007.8 532.0L1008.3 532.0L1008.8 532.0L1009.3 532.0L1009.8 532.0L1010.3 532.0L1010.8 532.0L1011.3 532.0L1011.8 532.0L1012.3 532.0L1012.8 532.0L1013.3 532.0L1013.8 532.0L1014.3 532.0L1014.8 532.0L1015.3 532.0L1015.8 532.0L1016.3 532.0L1016.8 532.0L1017.3 532.0L1017.8 532.0L1018.3 532.0L1018.8 532.0L1019.3 532.0L1019.8 532.0L1020.3 532.0L1020.8 532.0L1021.3 532.0L1021.8 532.0L1022.3 532.0L1022.8 532.0L1023.3 532.0L1023.8 532.0L1024.3 532.0L1024.8 532.0L1025.3 532.0L1025.8 532.0L1026.3 532.0L1026.8 532.0L1027.3 532.0L1027.8 532.0L1028.3 532.0L1028.8 532.0L1029.3 532.0L1029.8 532.0L1030.3 532.0L1030.8 532.0L1031.3 532.0L1031.8 532.0L1032.3 532.0L1032.8 532.0L1033.3 532.0L1033.8 532.0L1034.3 532.0L1034.8 532.0L1035.3 532.0L1035.8 532.0L1036.3 532.0L1036.8 532.0L1037.3 532.0M1027.1 532.0L1027.6 532.0L1028.1 531.9L1028.6 531.9L1029.1 531.8L1029.6 531.7L1030.1 531.5L1030.6 531.1L1031.1 530.6L1031.6 529.8L1032.1 528.6L1032.6 527.1L1033.1 525.0L1033.6 522.2L1034.1 518.8L1034.6 514.7L1035.1 509.9L1035.6 504.7L1036.1 499.1L1036.6 493.5L1037.1 488.2L1037.6 483.6L1038.1 480.1L1038.6 477.8L1039.1 477.0L1039.6 477.8L1040.1 480.1L1040.6 483.6L1041.1 488.2L1041.6 493.5L1042.1 499.1L1042.6 504.7L1043.1 509.9L1043.6 514.7L1044.1 518.8L1044.6 522.2L1045.1 525.0L1045.6 527.1L1046.1 528.6L1046.6 529.8L1047.1 530.6L1047.6 531.1L1048.1 531.5L1048.6 531.7L1049.1 531.8L1049.6 531.9L1050.1 531.9L1050.6 532.0L1051.1 532.0L1051.6 532.0L1052.1 532.0L1052.6 532.0L1053.1 532.0L1053.6 532.0L1054.1 532.0L1054.6 532.0L1055.1 532.0L1055.6 532.0L1056.1 532.0L1056.6 532.0L1057.1 532.0L1057.6 532.0L1058.1 532.0L1058.6 532.0L1059.1 532.0L1059.6 532.0L1060.1 532.0L1060.6 532.0L1061.1 532.0L1061.6 532.0L1062.1 532.0L1062.6 532.0L1063.1 532.0L1063.6 532.0L1064.1 532.0L1064.6 532.0L1065.1 532.0L1065.6 532.0L1066.1 532.0L1066.6 532.0L1067.1 532.0L1067.6 532.0L1068.1 532.0L1068.6 532.0L1069.1 532.0L1069.6 532.0L1070.1 532.0L1070.6 532.0L1071.1 532.0L1071.6 532.0L1072.1 532.0L1072.6 532.0L1073.1 532.0L1073.6 532.0L1074.1 532.0L1074.6 532.0L1075.1 532.0M1057.6 503.3L1058.1 497.7L1058.6 491.3L1059.1 484.1L1059.6 476.0L1060.1 467.0L1060.6 457.1L1061.1 446.4L1061.6 434.8L1062.1 422.4L1062.6 409.3L1063.1 395.7L1063.6 381.6L1064.1 367.2L1064.6 352.9L1065.1 338.6L1065.6 324.7L1066.1 311.5L1066.6 299.0L1067.1 287.7L1067.6 277.6L1068.1 269.1L1068.6 262.2L1069.1 257.1L1069.6 254.0L1070.1 252.8L1070.6 253.7L1071.1 256.5L1071.6 261.3L1072.1 267.9L1072.6 276.3L1073.1 286.1L1073.6 297.3L1074.1 309.6L1074.6 322.7L1075.1 336.5L1075.6 350.7L1076.1 365.1L1076.6 379.5L1077.1 393.6L1077.6 407.3L1078.1 420.5L1078.6 433.0L1079.1 444.7L1079.6 455.6L1080.1 465.6L1080.6 474.7L1081.1 483.0L1081.6 490.3L1082.1 496.8L1082.6 502.5L1083.1 507.5L1083.6 511.7L1084.1 515.4L1084.6 518.5L1085.1 521.1L1085.6 523.2L1086.1 525.0L1086.6 526.5L1087.1 527.7L1087.6 528.6L1088.1 529.4L1088.6 530.0L1089.1 530.5L1089.6 530.8L1090.1 531.1L1090.6 531.3L1091.1 531.5L1091.6 531.6L1092.1 531.7L1092.6 531.8L1093.1 531.9L1093.6 531.9L1094.1 531.9L1094.6 532.0L1095.1 532.0L1095.6 532.0L1096.1 532.0L1096.6 532.0L1097.1 532.0L1097.6 532.0L1098.1 532.0L1098.6 532.0L1099.1 532.0L1099.6 532.0L1100.1 532.0L1100.6 532.0L1101.1 532.0L1101.6 532.0L1102.1 532.0L1102.6 532.0L1103.1 532.0L1103.6 532.0L1104.1 532.0L1104.6 532.0L1105.1 532.0L1105.6 532.0L1106.2 532.0M1167.3 413.1L1167.8 402.1L1168.3 390.6L1168.8 378.6L1169.3 366.3L1169.8 353.6L1170.3 340.7L1170.8 327.6L1171.3 314.4L1171.8 301.2L1172.3 288.1L1172.8 275.3L1173.3 262.7L1173.8 250.6L1174.3 239.1L1174.8 228.2L1175.3 218.1L1175.8 208.9L1176.3 200.6L1176.8 193.4L1177.3 187.3L1177.8 182.4L1178.3 178.7L1178.8 176.3L1179.3 175.3L1179.9 175.5L1180.4 177.1L1180.9 180.0L1181.4 184.2L1181.9 189.6L1182.4 196.1L1182.9 203.8L1183.4 212.5L1183.9 222.1L1184.4 232.5L1184.9 243.7L1185.4 255.5L1185.9 267.7L1186.4 280.4L1186.9 293.4L1187.4 306.5L1187.9 319.7L1188.4 332.8L1188.9 345.9L1189.4 358.7L1189.9 371.3L1190.4 383.5L1190.9 395.2L1191.4 406.6L1191.9 417.4L1192.4 427.6L1192.9 437.3L1193.4 446.4L1193.9 455.0L1194.4 462.9L1194.9 470.2L1195.4 477.0L1195.9 483.2L1196.4 488.9L1196.9 494.0L1197.4 498.7L1197.9 502.9L1198.4 506.7L1198.9 510.0L1199.4 513.0L1199.9 515.6L1200.4 518.0L1200.9 520.0L1201.4 521.8L1201.9 523.3L1202.4 524.7L1202.9 525.8L1203.5 526.8L1204.0 527.7L1204.5 528.4L1205.0 529.0L1205.5 529.5L1206.0 530.0L1206.5 530.3L1207.0 530.6L1207.5 530.9L1208.0 531.1L1208.5 531.3L1209.0 531.4L1209.5 531.5L1210.0 531.6L1210.5 531.7L1211.0 531.8L1211.5 531.8L1212.0 531.9L1212.5 531.9L1213.0 531.9L1213.5 531.9L1214.0 531.9L1214.5 532.0L1215.0 532.0L1215.5 532.0M1188.7 352.8L1189.2 347.5L1189.7 342.3L1190.2 337.2L1190.7 332.2L1191.2 327.4L1191.7 322.6L1192.2 318.0L1192.7 313.6L1193.2 309.4L1193.7 305.4L1194.2 301.6L1194.7 298.0L1195.2 294.6L1195.7 291.5L1196.2 288.7L1196.7 286.1L1197.2 283.8L1197.7 281.8L1198.2 280.1L1198.7 278.7L1199.2 277.6L1199.7 276.8L1200.2 276.4L1200.7 276.2L1201.2 276.4L1201.7 276.8L1202.2 277.6L1202.7 278.7L1203.2 280.1L1203.7 281.8L1204.2 283.8L1204.7 286.1L1205.2 288.7L1205.7 291.5L1206.2 294.6L1206.7 298.0L1207.2 301.6L1207.7 305.4L1208.2 309.4L1208.7 313.6L1209.2 318.0L1209.7 322.6L1210.2 327.4L1210.7 332.2L1211.2 337.2L1211.7 342.3L1212.2 347.5L1212.7 352.8L1213.2 358.2L1213.7 363.6L1214.2 369.0L1214.7 374.4L1215.2 379.9L1215.7 385.3L1216.2 390.8L1216.7 396.1L1217.2 401.5L1217.7 406.8L1218.2 412.0L1218.7 417.2L1219.2 422.2L1219.7 427.2L1220.2 432.1L1220.7 436.8L1221.2 441.5L1221.7 446.0L1222.2 450.4L1222.7 454.7L1223.2 458.8L1223.7 462.8L1224.2 466.7L1224.7 470.4L1225.2 474.0L1225.7 477.4L1226.2 480.7L1226.7 483.9L1227.2 486.9L1227.7 489.8L1228.2 492.6L1228.7 495.2L1229.2 497.7L1229.7 500.0L1230.2 502.2L1230.7 504.4L1231.2 506.3L1231.7 508.2L1232.2 510.0L1232.7 511.7L1233.2 513.2L1233.7 514.7L1234.2 516.0L1234.7 517.3L1235.2 518.5L1235.7 519.6L1236.2 520.7L1236.7 521.6M1300.9 532.0L1301.4 532.0L1301.9 531.9L1302.4 531.9L1302.9 531.8L1303.4 531.7L1303.9 531.5L1304.4 531.2L1304.9 530.7L1305.4 529.9L1305.9 528.9L1306.4 527.4L1306.9 525.4L1307.4 522.8L1307.9 519.6L1308.4 515.8L1308.9 511.3L1309.4 506.4L1309.9 501.1L1310.4 495.9L1310.9 490.9L1311.4 486.6L1311.9 483.3L1312.4 481.1L1312.9 480.4L1313.4 481.1L1313.9 483.3L1314.4 486.6L1314.9 490.9L1315.4 495.9L1315.9 501.1L1316.4 506.4L1316.9 511.3L1317.4 515.8L1317.9 519.6L1318.4 522.8L1318.9 525.4L1319.4 527.4L1319.9 528.9L1320.4 529.9L1320.9 530.7L1321.4 531.2L1321.9 531.5L1322.4 531.7L1322.9 531.8L1323.4 531.9L1323.9 531.9L1324.4 532.0L1324.9 532.0L1325.4 532.0L1325.9 532.0L1326.4 532.0L1326.9 532.0L1327.4 532.0L1327.9 532.0L1328.4 532.0L1328.9 532.0L1329.4 532.0L1329.9 532.0L1330.4 532.0L1330.9 532.0L1331.4 532.0L1331.9 532.0L1332.4 532.0L1332.9 532.0L1333.4 532.0L1333.9 532.0L1334.4 532.0L1334.9 532.0L1335.4 532.0L1335.9 532.0L1336.4 532.0L1336.9 532.0L1337.4 532.0L1337.9 532.0L1338.4 532.0L1338.9 532.0L1339.4 532.0L1339.9 532.0L1340.4 532.0L1340.9 532.0L1341.4 532.0L1341.9 532.0L1342.4 532.0L1342.9 532.0L1343.4 532.0L1343.9 532.0L1344.4 532.0L1344.9 532.0L1345.4 532.0L1345.9 532.0L1346.4 532.0L1346.9 532.0L1347.4 532.0L1347.9 532.0L1348.4 532.0L1348.9 532.0M1323.4 529.1L1323.9 527.9L1324.4 526.3L1324.9 524.3L1325.4 521.7L1325.9 518.4L1326.4 514.3L1326.9 509.3L1327.4 503.2L1327.9 496.1L1328.4 487.9L1328.9 478.5L1329.4 468.1L1329.9 456.7L1330.4 444.5L1330.9 431.9L1331.4 419.0L1331.9 406.2L1332.4 394.0L1332.9 382.7L1333.4 372.8L1333.9 364.7L1334.4 358.6L1334.9 354.9L1335.4 353.6L1335.9 354.9L1336.4 358.6L1336.9 364.7L1337.4 372.8L1337.9 382.7L1338.4 394.0L1338.9 406.2L1339.4 419.0L1339.9 431.9L1340.4 444.5L1340.9 456.7L1341.4 468.1L1341.9 478.5L1342.4 487.9L1342.9 496.1L1343.4 503.2L1343.9 509.3L1344.4 514.3L1344.9 518.4L1345.4 521.7L1345.9 524.3L1346.4 526.3L1346.9 527.9L1347.4 529.1L1347.9 529.9L1348.4 530.6L1348.9 531.0L1349.4 531.3L1349.9 531.6L1350.4 531.7L1350.9 531.8L1351.4 531.9L1351.9 531.9L1352.4 532.0L1352.9 532.0L1353.4 532.0L1353.9 532.0L1354.4 532.0L1354.9 532.0L1355.4 532.0L1355.9 532.0L1356.4 532.0L1356.9 532.0L1357.4 532.0L1357.9 532.0L1358.4 532.0L1358.9 532.0L1359.4 532.0L1359.9 532.0L1360.4 532.0L1360.9 532.0L1361.4 532.0L1361.9 532.0L1362.4 532.0L1362.9 532.0L1363.4 532.0L1363.9 532.0L1364.4 532.0L1364.9 532.0L1365.4 532.0L1365.9 532.0L1366.4 532.0L1366.9 532.0L1367.4 532.0L1367.9 532.0L1368.4 532.0L1368.9 532.0L1369.4 532.0L1369.9 532.0L1370.4 532.0L1370.9 532.0L1371.4 532.0M1342.0 485.4L1342.5 479.3L1343.0 472.7L1343.5 465.6L1344.0 458.0L1344.5 450.0L1345.0 441.7L1345.5 432.9L1346.0 424.0L1346.5 414.8L1347.0 405.5L1347.5 396.2L1348.0 387.0L1348.5 377.9L1349.0 369.2L1349.5 360.8L1350.0 353.0L1350.5 345.8L1351.0 339.3L1351.5 333.7L1352.0 328.9L1352.5 325.2L1353.0 322.4L1353.5 320.8L1354.0 320.2L1354.5 320.8L1355.0 322.4L1355.5 325.2L1356.0 328.9L1356.5 333.7L1357.0 339.3L1357.5 345.8L1358.0 353.0L1358.5 360.8L1359.0 369.2L1359.5 377.9L1360.0 387.0L1360.5 396.2L1361.0 405.5L1361.5 414.8L1362.0 424.0L1362.5 432.9L1363.0 441.7L1363.5 450.0L1364.0 458.0L1364.5 465.6L1365.0 472.7L1365.5 479.3L1366.0 485.4L1366.5 491.1L1367.0 496.2L1367.5 500.9L1368.0 505.1L1368.5 508.8L1369.0 512.1L1369.5 515.1L1370.0 517.7L1370.5 519.9L1371.0 521.9L1371.5 523.5L1372.0 525.0L1372.5 526.2L1373.0 527.2L1373.5 528.1L1374.0 528.8L1374.5 529.5L1375.0 530.0L1375.5 530.4L1376.0 530.7L1376.5 531.0L1377.0 531.2L1377.5 531.4L1378.0 531.5L1378.5 531.6L1379.0 531.7L1379.5 531.8L1380.0 531.8L1380.5 531.9L1381.0 531.9L1381.5 531.9L1382.0 531.9L1382.5 532.0L1383.0 532.0L1383.5 532.0L1384.0 532.0L1384.5 532.0L1385.0 532.0L1385.5 532.0L1386.0 532.0L1386.5 532.0L1387.0 532.0L1387.5 532.0L1388.0 532.0L1388.5 532.0L1389.0 532.0L1389.5 532.0L1390.0 532.0M1376.6 468.7L1377.1 467.5L1377.6 466.2L1378.1 465.0L1378.6 463.8L1379.1 462.7L1379.6 461.6L1380.1 460.5L1380.6 459.5L1381.1 458.6L1381.6 457.7L1382.1 456.8L1382.6 456.0L1383.1 455.3L1383.6 454.6L1384.1 454.0L1384.6 453.5L1385.1 453.0L1385.6 452.6L1386.1 452.3L1386.6 452.0L1387.1 451.8L1387.6 451.7L1388.1 451.6L1388.6 451.6L1389.1 451.7L1389.6 451.8L1390.1 452.1L1390.6 452.4L1391.1 452.7L1391.6 453.1L1392.1 453.6L1392.6 454.2L1393.1 454.8L1393.6 455.5L1394.1 456.3L1394.6 457.1L1395.1 457.9L1395.6 458.8L1396.1 459.8L1396.6 460.8L1397.1 461.9L1397.6 463.0L1398.1 464.2L1398.6 465.4L1399.1 466.6L1399.6 467.8L1400.2 469.1L1400.7 470.5L1401.2 471.8L1401.7 473.2L1402.2 474.6L1402.7 476.0L1403.2 477.4L1403.7 478.8L1404.2 480.3L1404.7 481.7L1405.2 483.1L1405.7 484.6L1406.2 486.0L1406.7 487.5L1407.2 488.9L1407.7 490.3L1408.2 491.7L1408.7 493.1L1409.2 494.5L1409.7 495.9L1410.2 497.2L1410.7 498.6L1411.2 499.9L1411.7 501.1L1412.2 502.4L1412.7 503.6L1413.2 504.8L1413.7 506.0L1414.2 507.1L1414.7 508.2L1415.2 509.3L1415.7 510.4L1416.2 511.4L1416.7 512.4L1417.2 513.4L1417.7 514.3L1418.2 515.2L1418.7 516.1L1419.2 516.9L1419.7 517.7L1420.2 518.5L1420.7 519.2L1421.2 519.9L1421.7 520.6L1422.2 521.3L1422.7 521.9L1423.2 522.5M1403.6 487.6L1404.1 482.6L1404.6 477.3L1405.1 471.7L1405.6 465.8L1406.1 459.6L1406.6 453.3L1407.1 446.8L1407.6 440.3L1408.1 433.6L1408.6 427.0L1409.1 420.5L1409.6 414.0L1410.1 407.9L1410.6 402.0L1411.1 396.4L1411.7 391.3L1412.2 386.6L1412.7 382.5L1413.2 379.0L1413.7 376.2L1414.2 374.0L1414.7 372.6L1415.2 371.9L1415.7 371.9L1416.2 372.7L1416.7 374.2L1417.2 376.4L1417.7 379.4L1418.2 382.9L1418.7 387.1L1419.2 391.8L1419.7 396.9L1420.2 402.5L1420.7 408.4L1421.2 414.7L1421.7 421.1L1422.2 427.6L1422.7 434.3L1423.2 440.9L1423.7 447.5L1424.2 453.9L1424.7 460.2L1425.2 466.3L1425.7 472.2L1426.2 477.8L1426.7 483.1L1427.2 488.1L1427.8 492.8L1428.3 497.1L1428.8 501.1L1429.3 504.8L1429.8 508.1L1430.3 511.1L1430.8 513.9L1431.3 516.3L1431.8 518.5L1432.3 520.4L1432.8 522.1L1433.3 523.6L1433.8 524.9L1434.3 526.0L1434.8 527.0L1435.3 527.8L1435.8 528.6L1436.3 529.2L1436.8 529.7L1437.3 530.1L1437.8 530.4L1438.3 530.7L1438.8 531.0L1439.3 531.2L1439.8 531.3L1440.3 531.5L1440.8 531.6L1441.3 531.7L1441.8 531.7L1442.3 531.8L1442.8 531.8L1443.3 531.9L1443.9 531.9L1444.4 531.9L1444.9 531.9L1445.4 532.0L1445.9 532.0L1446.4 532.0L1446.9 532.0L1447.4 532.0L1447.9 532.0L1448.4 532.0L1448.9 532.0L1449.4 532.0L1449.9 532.0L1450.4 532.0L1450.9 532.0L1451.4 532.0M1439.0 532.0L1439.5 531.9L1440.0 531.9L1440.5 531.8L1441.0 531.6L1441.5 531.4L1442.0 531.0L1442.5 530.5L1443.0 529.6L1443.5 528.5L1444.0 526.9L1444.5 524.7L1445.0 521.9L1445.5 518.4L1446.0 514.2L1446.5 509.2L1447.0 503.6L1447.5 497.5L1448.0 491.1L1448.5 484.9L1449.0 479.0L1449.5 474.0L1450.0 470.1L1450.5 467.6L1451.0 466.8L1451.5 467.6L1452.0 470.1L1452.5 474.0L1453.0 479.0L1453.5 484.9L1454.0 491.1L1454.5 497.5L1455.0 503.6L1455.5 509.2L1456.0 514.2L1456.5 518.4L1457.0 521.9L1457.5 524.7L1458.0 526.9L1458.5 528.5L1459.0 529.6L1459.5 530.5L1460.0 531.0L1460.5 531.4L1461.0 531.6L1461.5 531.8L1462.0 531.9L1462.5 531.9L1463.0 532.0L1463.5 532.0L1464.0 532.0L1464.5 532.0L1465.0 532.0L1465.5 532.0L1466.0 532.0L1466.5 532.0L1467.0 532.0L1467.5 532.0L1468.0 532.0L1468.5 532.0L1469.0 532.0L1469.5 532.0L1470.0 532.0L1470.5 532.0L1471.0 532.0L1471.5 532.0L1472.0 532.0L1472.5 532.0L1473.0 532.0L1473.5 532.0L1474.0 532.0L1474.5 532.0L1475.0 532.0L1475.5 532.0L1476.0 532.0L1476.5 532.0L1477.0 532.0L1477.5 532.0L1478.0 532.0L1478.5 532.0L1479.0 532.0L1479.5 532.0L1480.0 532.0L1480.5 532.0L1481.0 532.0L1481.5 532.0L1482.0 532.0L1482.5 532.0L1483.0 532.0L1483.5 532.0L1484.0 532.0L1484.5 532.0L1485.0 532.0L1485.5 532.0L1486.0 532.0L1486.5 532.0L1487.0 532.0M1462.4 531.9L1462.9 531.8L1463.4 531.7L1463.9 531.5L1464.4 531.2L1464.9 530.8L1465.4 530.2L1465.9 529.3L1466.4 528.1L1466.9 526.5L1467.4 524.4L1467.9 521.8L1468.4 518.5L1468.9 514.5L1469.4 510.0L1469.9 504.8L1470.4 499.2L1470.9 493.2L1471.4 487.2L1471.9 481.4L1472.4 476.1L1472.9 471.5L1473.4 468.1L1473.9 465.9L1474.4 465.2L1474.9 465.9L1475.4 468.1L1475.9 471.5L1476.4 476.1L1476.9 481.4L1477.4 487.2L1477.9 493.2L1478.4 499.2L1478.9 504.8L1479.4 510.0L1479.9 514.5L1480.4 518.5L1480.9 521.8L1481.4 524.4L1481.9 526.5L1482.4 528.1L1482.9 529.3L1483.4 530.2L1483.9 530.8L1484.4 531.2L1484.9 531.5L1485.4 531.7L1485.9 531.8L1486.4 531.9L1486.9 531.9L1487.4 532.0L1487.9 532.0L1488.4 532.0L1488.9 532.0L1489.4 532.0L1489.9 532.0L1490.4 532.0L1490.9 532.0L1491.4 532.0L1491.9 532.0L1492.4 532.0L1492.9 532.0L1493.4 532.0L1493.9 532.0L1494.4 532.0L1494.9 532.0L1495.4 532.0L1495.9 532.0L1496.4 532.0L1496.9 532.0L1497.4 532.0L1497.9 532.0L1498.4 532.0L1498.9 532.0L1499.4 532.0L1499.9 532.0L1500.4 532.0L1500.9 532.0L1501.4 532.0L1501.9 532.0L1502.4 532.0L1502.9 532.0L1503.4 532.0L1503.9 532.0L1504.4 532.0L1504.9 532.0L1505.4 532.0L1505.9 532.0L1506.4 532.0L1506.9 532.0L1507.4 532.0L1507.9 532.0L1508.4 532.0L1508.9 532.0L1509.4 532.0L1509.9 532.0L1510.4 532.0M1490.7 531.1L1491.2 530.8L1491.7 530.4L1492.2 529.9L1492.7 529.3L1493.2 528.7L1493.7 527.9L1494.2 526.9L1494.7 525.8L1495.2 524.6L1495.7 523.2L1496.2 521.7L1496.7 520.1L1497.2 518.4L1497.7 516.6L1498.2 514.8L1498.7 513.0L1499.2 511.3L1499.7 509.6L1500.2 508.2L1500.7 506.9L1501.2 505.8L1501.7 505.0L1502.2 504.6L1502.7 504.4L1503.2 504.6L1503.7 505.0L1504.2 505.8L1504.7 506.9L1505.2 508.2L1505.7 509.6L1506.2 511.3L1506.7 513.0L1507.2 514.8L1507.7 516.6L1508.2 518.4L1508.7 520.1L1509.2 521.7L1509.7 523.2L1510.2 524.6L1510.7 525.8L1511.2 526.9L1511.7 527.9L1512.2 528.7L1512.7 529.3L1513.2 529.9L1513.7 530.4L1514.2 530.8L1514.7 531.1L1515.2 531.3L1515.7 531.5L1516.2 531.6L1516.7 531.7L1517.2 531.8L1517.7 531.9L1518.2 531.9L1518.7 531.9L1519.2 532.0L1519.7 532.0L1520.2 532.0L1520.7 532.0L1521.2 532.0L1521.7 532.0L1522.2 532.0L1522.7 532.0L1523.2 532.0L1523.7 532.0L1524.2 532.0L1524.7 532.0L1525.2 532.0L1525.7 532.0L1526.2 532.0L1526.7 532.0L1527.2 532.0L1527.7 532.0L1528.2 532.0L1528.7 532.0L1529.2 532.0L1529.7 532.0L1530.2 532.0L1530.7 532.0L1531.2 532.0L1531.7 532.0L1532.2 532.0L1532.7 532.0L1533.2 532.0L1533.7 532.0L1534.2 532.0L1534.7 532.0L1535.2 532.0L1535.7 532.0L1536.2 532.0L1536.7 532.0L1537.2 532.0L1537.7 532.0L1538.2 532.0L1538.7 532.0M1526.4 532.0L1526.9 532.0L1527.4 532.0L1527.9 532.0L1528.4 532.0L1528.9 532.0L1529.4 532.0L1529.9 532.0L1530.4 532.0L1530.9 532.0L1531.4 532.0L1531.9 531.9L1532.4 531.8L1532.9 531.5L1533.4 530.9L1533.9 530.0L1534.4 528.4L1534.9 525.9L1535.4 522.5L1535.9 518.2L1536.4 513.2L1536.9 508.2L1537.4 503.7L1537.9 500.7L1538.4 499.6L1538.9 500.7L1539.4 503.7L1539.9 508.2L1540.4 513.2L1540.9 518.2L1541.4 522.5L1541.9 525.9L1542.4 528.4L1542.9 530.0L1543.4 530.9L1543.9 531.5L1544.4 531.8L1544.9 531.9L1545.4 532.0L1545.9 532.0L1546.4 532.0L1546.9 532.0L1547.4 532.0L1547.9 532.0L1548.4 532.0L1548.9 532.0L1549.4 532.0L1549.9 532.0L1550.4 532.0L1550.9 532.0L1551.4 532.0L1551.9 532.0L1552.4 532.0L1552.9 532.0L1553.4 532.0L1553.9 532.0L1554.4 532.0L1554.9 532.0L1555.4 532.0L1555.9 532.0L1556.4 532.0L1556.9 532.0L1557.4 532.0L1557.9 532.0L1558.4 532.0L1558.9 532.0L1559.4 532.0L1559.9 532.0L1560.4 532.0L1560.9 532.0L1561.4 532.0L1561.9 532.0L1562.4 532.0L1562.9 532.0L1563.4 532.0L1563.9 532.0L1564.4 532.0L1564.9 532.0L1565.4 532.0L1565.9 532.0L1566.4 532.0L1566.9 532.0L1567.4 532.0L1567.9 532.0L1568.4 532.0L1568.9 532.0L1569.4 532.0L1569.9 532.0L1570.4 532.0L1570.9 532.0L1571.4 532.0L1571.9 532.0L1572.4 532.0L1572.9 532.0L1573.4 532.0L1573.9 532.0L1574.4 532.0M1581.4 532.0L1581.9 532.0L1582.4 532.0L1582.9 532.0L1583.4 532.0L1583.9 532.0L1584.4 532.0L1584.9 532.0L1585.4 532.0L1585.9 532.0L1586.4 532.0L1586.9 532.0L1587.4 531.9L1587.9 531.8L1588.4 531.6L1588.9 531.2L1589.4 530.5L1589.9 529.4L1590.4 527.8L1590.9 525.8L1591.4 523.5L1591.9 521.1L1592.4 519.0L1592.9 517.5L1593.4 517.0L1593.9 517.5L1594.4 519.0L1594.9 521.1L1595.4 523.5L1595.9 525.8L1596.4 527.8L1596.9 529.4L1597.4 530.5L1597.9 531.2L1598.4 531.6L1598.9 531.8L1599.4 531.9L1599.9 532.0L1600.4 532.0L1600.9 532.0L1601.4 532.0L1601.9 532.0L1602.4 532.0L1602.9 532.0L1603.4 532.0L1603.9 532.0L1604.4 532.0L1604.9 532.0L1605.4 532.0L1605.9 532.0L1606.4 532.0L1606.9 532.0L1607.4 532.0L1607.9 532.0L1608.4 532.0L1608.9 532.0L1609.4 532.0L1609.9 532.0L1610.4 532.0L1610.9 532.0L1611.4 532.0L1611.9 532.0L1612.4 532.0L1612.9 532.0L1613.4 532.0L1613.9 532.0L1614.4 532.0L1614.9 532.0L1615.4 532.0L1615.9 532.0L1616.4 532.0L1616.9 532.0L1617.4 532.0L1617.9 532.0L1618.4 532.0L1618.9 532.0L1619.4 532.0L1619.9 532.0L1620.4 532.0L1620.9 532.0L1621.4 532.0L1621.9 532.0L1622.4 532.0L1622.9 532.0L1623.4 532.0L1623.9 532.0L1624.4 532.0L1624.9 532.0L1625.4 532.0L1625.9 532.0L1626.4 532.0L1626.9 532.0L1627.4 532.0L1627.9 532.0L1628.4 532.0L1628.9 532.0L1629.4 532.0M1605.2 532.0L1605.7 531.9L1606.2 531.9L1606.7 531.8L1607.2 531.7L1607.7 531.6L1608.2 531.4L1608.7 531.2L1609.2 530.9L1609.7 530.5L1610.2 530.0L1610.7 529.3L1611.2 528.6L1611.7 527.7L1612.2 526.7L1612.7 525.6L1613.2 524.4L1613.7 523.2L1614.2 521.9L1614.7 520.8L1615.2 519.7L1615.7 518.8L1616.2 518.2L1616.7 517.7L1617.2 517.6L1617.7 517.7L1618.2 518.2L1618.7 518.8L1619.2 519.7L1619.7 520.8L1620.2 521.9L1620.7 523.2L1621.2 524.4L1621.7 525.6L1622.2 526.7L1622.7 527.7L1623.2 528.6L1623.7 529.3L1624.2 530.0L1624.7 530.5L1625.2 530.9L1625.7 531.2L1626.2 531.4L1626.7 531.6L1627.2 531.7L1627.7 531.8L1628.2 531.9L1628.7 531.9L1629.2 532.0L1629.7 532.0L1630.2 532.0L1630.7 532.0L1631.2 532.0L1631.7 532.0L1632.2 532.0L1632.7 532.0L1633.2 532.0L1633.7 532.0L1634.2 532.0L1634.7 532.0L1635.2 532.0L1635.7 532.0L1636.2 532.0L1636.7 532.0L1637.2 532.0L1637.7 532.0L1638.2 532.0L1638.7 532.0L1639.2 532.0L1639.7 532.0L1640.2 532.0L1640.7 532.0L1641.2 532.0L1641.7 532.0L1642.2 532.0L1642.7 532.0L1643.2 532.0L1643.7 532.0L1644.2 532.0L1644.7 532.0L1645.2 532.0L1645.7 532.0L1646.2 532.0L1646.7 532.0L1647.2 532.0L1647.7 532.0L1648.2 532.0L1648.7 532.0L1649.2 532.0L1649.7 532.0L1650.2 532.0L1650.7 532.0L1651.2 532.0L1651.7 532.0L1652.2 532.0L1652.7 532.0L1653.2 532.0M1664.2 532.0L1664.8 532.0L1665.2 532.0L1665.8 532.0L1666.2 532.0L1666.8 532.0L1667.2 532.0L1667.8 532.0L1668.2 532.0L1668.8 532.0L1669.2 532.0L1669.8 532.0L1670.2 532.0L1670.8 532.0L1671.2 532.0L1671.8 532.0L1672.2 532.0L1672.8 532.0L1673.2 532.0L1673.8 532.0L1674.2 532.0L1674.8 531.9L1675.2 531.3L1675.8 529.4L1676.2 528.0L1676.8 529.4L1677.2 531.3L1677.8 531.9L1678.2 532.0L1678.8 532.0L1679.2 532.0L1679.8 532.0L1680.2 532.0L1680.8 532.0L1681.2 532.0L1681.8 532.0L1682.2 532.0L1682.8 532.0L1683.2 532.0L1683.8 532.0L1684.2 532.0L1684.8 532.0L1685.2 532.0L1685.8 532.0L1686.2 532.0L1686.8 532.0L1687.2 532.0L1687.8 532.0L1688.2 532.0L1688.8 532.0L1689.2 532.0L1689.8 532.0L1690.2 532.0L1690.8 532.0L1691.2 532.0L1691.8 532.0L1692.2 532.0L1692.8 532.0L1693.2 532.0L1693.8 532.0L1694.2 532.0L1694.8 532.0L1695.2 532.0L1695.8 532.0L1696.2 532.0L1696.8 532.0L1697.2 532.0L1697.8 532.0L1698.2 532.0L1698.8 532.0L1699.2 532.0L1699.8 532.0L1700.2 532.0L1700.8 532.0L1701.2 532.0L1701.8 532.0L1702.2 532.0L1702.8 532.0L1703.2 532.0L1703.8 532.0L1704.2 532.0L1704.8 532.0L1705.2 532.0L1705.8 532.0L1706.2 532.0L1706.8 532.0L1707.2 532.0L1707.8 532.0L1708.2 532.0L1708.8 532.0L1709.2 532.0L1709.8 532.0L1710.2 532.0L1710.8 532.0L1711.2 532.0L1711.8 532.0L1712.2 532.0M199.7 532.0H303.5M340.6 532.0H585.4M601.5 532.0H679.0M694.0 532.0H718.7M741.0 532.0H901.7M916.5 532.0H936.0M956.0 532.0H1074.5M1089.3 532.0H1104.2M1203.0 532.0H1214.2M1302.0 532.0H1391.0M1430.0 532.0H1450.3M1458.5 532.0H1576.4M1584.5 532.0H1652.6M1663.8 532.0H1711.6" fill="none" stroke="#ff2000" stroke-width="1.5" stroke-linejoin="round"/>
<path d="M193.0 517.7H205.4M208.9 520.4H215.1M240.8 520.4H245.2M253.5 514.9H257.6M266.1 530.4H269.1M321.3 415.8H334.6M350.9 515.4H356.7M370.0 464.5H379.9M382.4 460.3H393.2M414.0 527.0H418.4M436.0 523.0H438.6M457.1 494.4H462.6M470.9 476.4H479.7M482.3 438.2H496.5M507.9 394.3H516.0M524.0 477.0H530.5M546.0 488.7H553.1M573.0 434.5H619.8M607.0 408.4H617.6M623.1 506.7H631.8M639.7 478.2H647.8M677.2 460.6H690.0M732.2 396.8H746.8M751.4 382.9H753.3M769.9 457.8H775.1M776.8 406.6H786.6M799.7 493.9H811.7M806.2 487.4H814.9M830.3 478.7H832.2M843.6 291.7H852.1M860.6 347.8H872.5M894.6 388.0H909.9M927.0 427.7H974.8M937.1 418.5H951.3M949.5 417.3H966.3M963.1 490.2H978.3M988.4 516.2H995.5M1000.3 519.0H1002.3M1035.0 505.0H1043.2M1062.0 392.9H1078.3M1168.1 354.1H1190.9M1181.0 404.6H1220.4M1308.8 506.7H1317.0M1329.6 443.3H1341.2M1344.4 426.6H1363.5M1364.9 492.3H1411.7M1405.2 452.4H1425.6M1446.7 499.9H1455.3M1469.8 499.1H1479.1M1496.3 518.7H1509.1M1535.8 516.3H1541.1M1590.8 525.0H1596.0M1612.3 525.3H1622.1M1675.5 530.5H1677.0" fill="none" stroke="#1f00dd" stroke-width="3.7"/>
<path d="M327.9 167H511.8M487 152.5L511.8 167L487 181.5M327.9 200H489.8M464.5 185.8L489.8 200L464.5 214.2M327.9 233.5H387.6M362.9 219.1L387.6 233.5L362.9 247.9M327.9 266.6H374.9M350.2 252.2L374.9 266.6L350.2 281.0" fill="none" stroke="#000" stroke-width="1.4"/>
<path d="M128.3 1373.7H903.3M128.30 1373.7v14.6M276.30 1373.7v14.6M424.30 1373.7v14.6M572.30 1373.7v14.6M720.30 1373.7v14.6M868.30 1373.7v14.6" stroke="#000" stroke-width="3.2" fill="none"/>
<path d="M1021.5 1373.7H1801.2M1023.00 1373.7v14.6M1201.35 1373.7v14.6M1379.70 1373.7v14.6M1558.05 1373.7v14.6M1736.40 1373.7v14.6" stroke="#000" stroke-width="3.2" fill="none"/>
<g stroke="#000" stroke-width="0.7"><text x="82.23" y="533.40" font-size="35.34" textLength="21.78" lengthAdjust="spacingAndGlyphs">0</text><text x="81.75" y="413.55" font-size="35.34" textLength="22.86" lengthAdjust="spacingAndGlyphs">2</text><text x="82.97" y="280.85" font-size="35.34" textLength="20.59" lengthAdjust="spacingAndGlyphs">4</text><text x="81.78" y="147.75" font-size="35.34" textLength="22.49" lengthAdjust="spacingAndGlyphs">6</text><text x="82.11" y="23.40" font-size="35.34" textLength="22.13" lengthAdjust="spacingAndGlyphs">8</text><text x="103.76" y="581.65" font-size="35.34" textLength="21.43" lengthAdjust="spacingAndGlyphs">0</text><text x="499.33" y="581.65" font-size="35.34" textLength="44.05" lengthAdjust="spacingAndGlyphs">10</text><text x="905.86" y="581.65" font-size="35.34" textLength="43.08" lengthAdjust="spacingAndGlyphs">20</text><text x="1313.37" y="581.65" font-size="35.34" textLength="42.56" lengthAdjust="spacingAndGlyphs">30</text><text x="1719.71" y="581.65" font-size="35.34" textLength="43.86" lengthAdjust="spacingAndGlyphs">40</text><text x="774.96" y="622.90" font-size="34.33" textLength="48.98" lengthAdjust="spacing">Slit</text><text x="843.14" y="622.90" font-size="34.33" textLength="139.29" lengthAdjust="spacing">distance</text><text x="999.65" y="622.90" font-size="34.33" textLength="140.54" lengthAdjust="spacing">(arcsec)</text><g transform="rotate(-90)"><text x="-462.84" y="54.00" font-size="33.45" textLength="23.84" lengthAdjust="spacingAndGlyphs">−</text><text x="-437.59" y="54.00" font-size="33.45" textLength="137.85" lengthAdjust="spacing">Intensity</text><text x="-281.92" y="54.00" font-size="33.45" textLength="138.48" lengthAdjust="spacing">contrats</text><text x="-125.79" y="54.00" font-size="33.45" textLength="54.49" lengthAdjust="spacingAndGlyphs">(%)</text></g><text x="1727.37" y="57.37" font-size="40.64" textLength="12.94" lengthAdjust="spacingAndGlyphs" stroke-width="0">(</text><text x="1741.70" y="57.17" font-size="33.42" textLength="18.34" lengthAdjust="spacingAndGlyphs">a</text><text x="1763.90" y="57.37" font-size="40.64" textLength="13.19" lengthAdjust="spacingAndGlyphs" stroke-width="0">)</text><text x="161.83" y="147.70" font-size="33.75" textLength="115.98" lengthAdjust="spacing">Waiting</text><text x="296.69" y="147.70" font-size="33.75" textLength="70.90" lengthAdjust="spacing">time</text><text x="160.92" y="400.80" font-size="34.33" textLength="140.06" lengthAdjust="spacing">Duration</text><text x="95.95" y="1256.35" font-size="34.91" textLength="21.55" lengthAdjust="spacingAndGlyphs">0</text><text x="74.45" y="1151.65" font-size="35.05" textLength="43.09" lengthAdjust="spacingAndGlyphs">50</text><text x="55.41" y="1033.55" font-size="35.05" textLength="62.02" lengthAdjust="spacingAndGlyphs">100</text><text x="55.41" y="915.45" font-size="35.05" textLength="62.02" lengthAdjust="spacingAndGlyphs">150</text><text x="53.07" y="797.35" font-size="35.05" textLength="64.42" lengthAdjust="spacingAndGlyphs">200</text><text x="53.07" y="689.25" font-size="35.05" textLength="64.42" lengthAdjust="spacingAndGlyphs">250</text><text x="99.86" y="1305.16" font-size="33.92" textLength="53.49" lengthAdjust="spacingAndGlyphs">0.0</text><text x="230.10" y="1305.16" font-size="33.92" textLength="48.56" lengthAdjust="spacingAndGlyphs">0.1</text><text x="358.88" y="1305.16" font-size="33.92" textLength="52.72" lengthAdjust="spacingAndGlyphs">0.2</text><text x="487.76" y="1305.16" font-size="33.92" textLength="53.69" lengthAdjust="spacingAndGlyphs">0.3</text><text x="616.97" y="1305.16" font-size="33.92" textLength="53.08" lengthAdjust="spacingAndGlyphs">0.4</text><text x="746.06" y="1305.16" font-size="33.92" textLength="53.59" lengthAdjust="spacingAndGlyphs">0.5</text><text x="875.16" y="1305.16" font-size="33.92" textLength="53.69" lengthAdjust="spacingAndGlyphs">0.6</text><text x="392.93" y="1346.90" font-size="33.60" textLength="86.99" lengthAdjust="spacing">Width</text><text x="497.90" y="1346.90" font-size="33.60" textLength="138.85" lengthAdjust="spacing">(arcsec)</text><g transform="rotate(-90)"><text x="-1026.40" y="23.40" font-size="32.73" textLength="128.95" lengthAdjust="spacing">Number</text></g><text x="829.17" y="721.47" font-size="40.64" textLength="12.94" lengthAdjust="spacingAndGlyphs" stroke-width="0">(</text><text x="844.49" y="721.56" font-size="33.74" textLength="19.77" lengthAdjust="spacingAndGlyphs">b</text><text x="865.70" y="721.47" font-size="40.64" textLength="13.19" lengthAdjust="spacingAndGlyphs" stroke-width="0">)</text><text x="126.21" y="1419.06" font-size="33.92" textLength="22.13" lengthAdjust="spacingAndGlyphs">0</text><text x="275.37" y="1419.06" font-size="33.92" textLength="21.31" lengthAdjust="spacingAndGlyphs">5</text><text x="425.84" y="1419.06" font-size="33.92" textLength="39.48" lengthAdjust="spacingAndGlyphs">10</text><text x="573.23" y="1419.06" font-size="33.92" textLength="41.03" lengthAdjust="spacingAndGlyphs">15</text><text x="719.38" y="1419.06" font-size="33.92" textLength="42.64" lengthAdjust="spacingAndGlyphs">20</text><text x="867.22" y="1419.06" font-size="33.92" textLength="44.06" lengthAdjust="spacingAndGlyphs">25</text><text x="386.34" y="1460.00" font-size="34.62" textLength="139.00" lengthAdjust="spacing">Duration</text><text x="543.24" y="1460.00" font-size="34.62" textLength="85.82" lengthAdjust="spacing">(sec)</text><text x="990.05" y="1256.94" font-size="35.76" textLength="21.55" lengthAdjust="spacingAndGlyphs">0</text><text x="927.57" y="1171.51" font-size="35.62" textLength="84.03" lengthAdjust="spacingAndGlyphs">1000</text><text x="925.67" y="1073.08" font-size="35.62" textLength="85.97" lengthAdjust="spacingAndGlyphs">2000</text><text x="926.16" y="974.64" font-size="35.62" textLength="85.47" lengthAdjust="spacingAndGlyphs">3000</text><text x="926.74" y="876.21" font-size="35.62" textLength="84.87" lengthAdjust="spacingAndGlyphs">4000</text><text x="926.06" y="777.78" font-size="35.62" textLength="85.56" lengthAdjust="spacingAndGlyphs">5000</text><text x="925.67" y="689.64" font-size="35.62" textLength="85.97" lengthAdjust="spacingAndGlyphs">6000</text><text x="1009.61" y="1306.06" font-size="33.78" textLength="23.53" lengthAdjust="spacingAndGlyphs">0</text><text x="1157.20" y="1306.06" font-size="33.78" textLength="41.59" lengthAdjust="spacingAndGlyphs">10</text><text x="1311.18" y="1306.06" font-size="33.78" textLength="42.64" lengthAdjust="spacingAndGlyphs">20</text><text x="1468.07" y="1306.06" font-size="33.78" textLength="42.56" lengthAdjust="spacingAndGlyphs">30</text><text x="1623.13" y="1306.06" font-size="33.78" textLength="43.01" lengthAdjust="spacingAndGlyphs">40</text><text x="1777.91" y="1306.06" font-size="33.78" textLength="44.17" lengthAdjust="spacingAndGlyphs">50</text><text x="1209.65" y="1346.50" font-size="33.02" textLength="243.33" lengthAdjust="spacing">Inter−distance</text><text x="1470.24" y="1346.50" font-size="33.02" textLength="139.17" lengthAdjust="spacing">(arcsec)</text><text x="1727.17" y="721.39" font-size="40.54" textLength="12.94" lengthAdjust="spacingAndGlyphs" stroke-width="0">(</text><text x="1742.09" y="721.27" font-size="32.88" textLength="17.79" lengthAdjust="spacingAndGlyphs">c</text><text x="1763.01" y="721.39" font-size="40.54" textLength="12.94" lengthAdjust="spacingAndGlyphs" stroke-width="0">)</text><text x="1021.22" y="1419.06" font-size="33.92" textLength="20.62" lengthAdjust="spacingAndGlyphs">0</text><text x="1200.68" y="1419.06" font-size="33.92" textLength="63.59" lengthAdjust="spacingAndGlyphs">500</text><text x="1379.87" y="1419.06" font-size="33.92" textLength="84.03" lengthAdjust="spacingAndGlyphs">1000</text><text x="1559.42" y="1419.06" font-size="33.92" textLength="82.56" lengthAdjust="spacingAndGlyphs">1500</text><text x="1735.86" y="1419.06" font-size="33.92" textLength="86.17" lengthAdjust="spacingAndGlyphs">2000</text><text x="1247.53" y="1460.00" font-size="34.62" textLength="114.74" lengthAdjust="spacing">Waiting</text><text x="1380.98" y="1460.00" font-size="34.62" textLength="71.55" lengthAdjust="spacing">time</text><text x="1469.04" y="1460.00" font-size="34.62" textLength="87.72" lengthAdjust="spacing">(sec)</text></g>
</svg></body></html>
